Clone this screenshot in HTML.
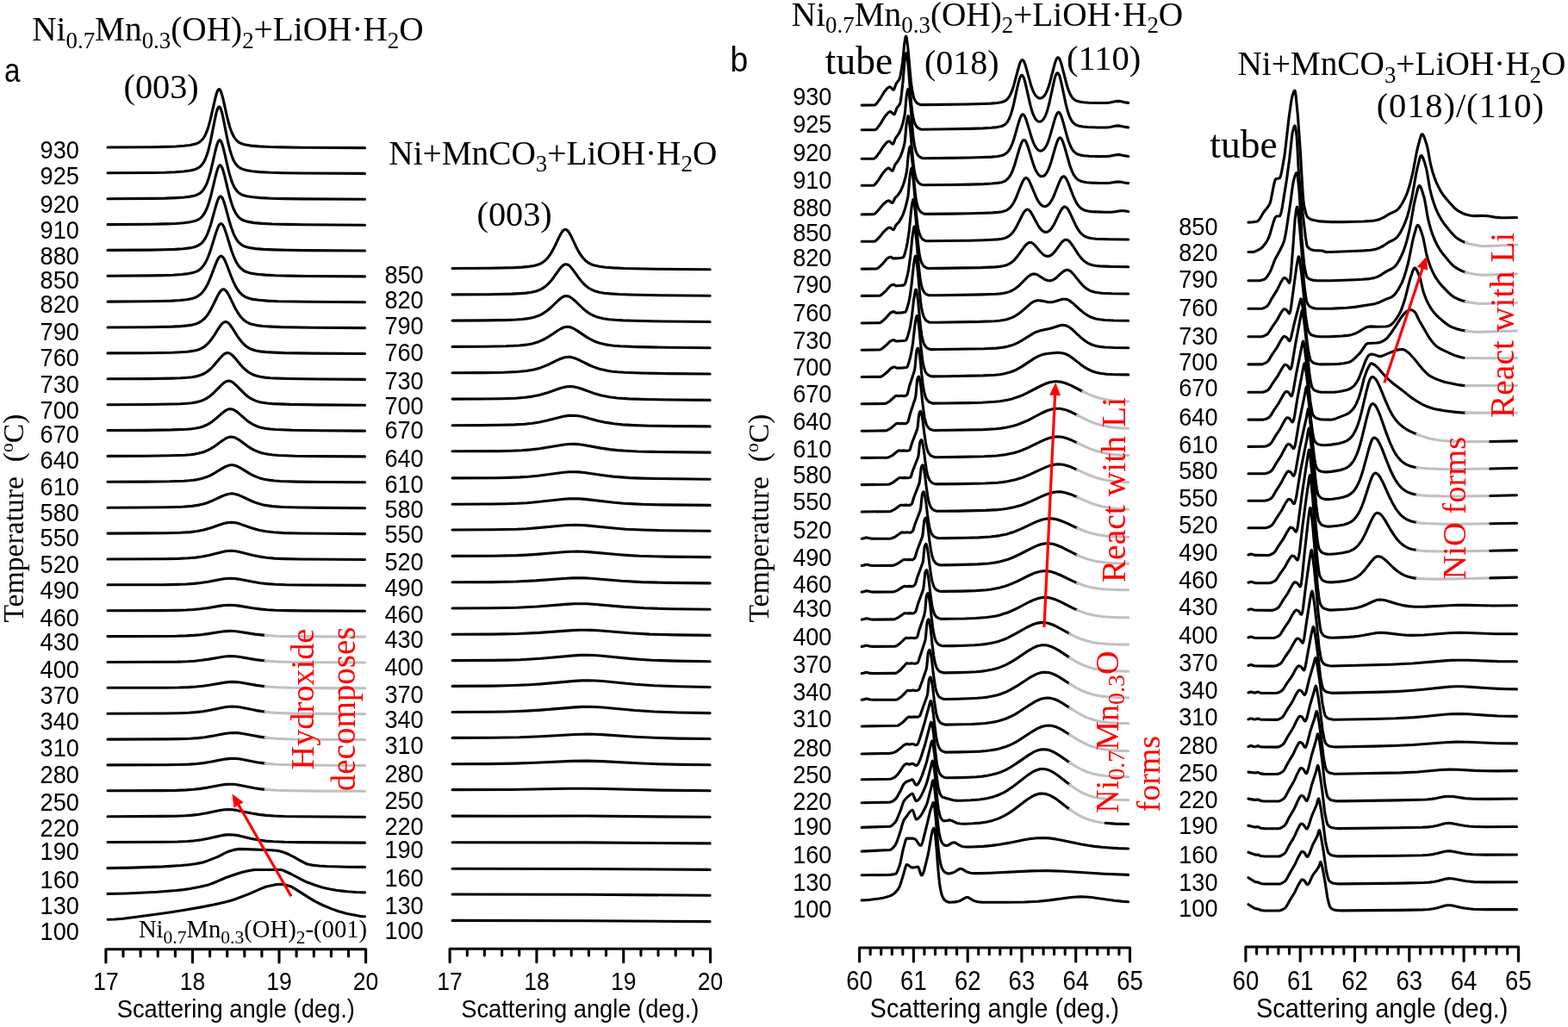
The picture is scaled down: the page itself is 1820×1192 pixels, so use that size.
<!DOCTYPE html><html><head><meta charset="utf-8"><title>XRD</title><style>html,body{margin:0;padding:0;background:#fff;width:1820px;height:1192px;overflow:hidden}svg{display:block;filter:blur(0.45px)}.s{font-family:"Liberation Sans",Arial,sans-serif}.r{font-family:"Liberation Serif","Times New Roman",serif}</style></head><body><svg width="1820" height="1192" viewBox="0 0 1820 1192"><rect width="1820" height="1192" fill="#fff"/><g fill="none" stroke-width="3.10" stroke-linejoin="round" stroke-linecap="round"><path d="M125.0 171.0L176.0 170.7 192.0 170.4 204.0 170.0 213.5 169.3 220.5 168.5 226.0 167.3 228.0 166.7 230.0 165.8 231.5 164.9 233.0 163.8 235.5 161.2 237.0 159.0 238.0 157.2 240.0 152.7 242.0 146.9 244.0 139.7 249.5 115.6 251.0 109.8 252.0 106.7 253.0 104.6 253.5 104.0 254.0 103.7 254.5 103.6 255.0 103.9 256.0 105.4 257.5 109.4 259.0 115.2 263.0 133.1 265.0 141.3 267.0 148.2 269.0 153.7 271.5 158.8 272.5 160.4 274.0 162.3 276.5 164.6 278.0 165.6 280.0 166.5 282.5 167.4 285.0 168.0 291.5 169.1 300.5 169.9 313.0 170.5 328.5 170.9 350.0 171.2 423.5 171.6" stroke="#000"/>
<path d="M125.0 200.8L175.5 200.5 191.5 200.2 203.5 199.7 213.0 199.0 220.5 198.0 226.0 196.7 228.0 195.9 230.0 194.9 231.5 194.0 233.0 192.7 235.5 189.7 237.0 187.3 238.0 185.3 240.0 180.2 242.0 173.7 244.0 165.6 249.5 138.1 251.0 131.4 252.0 127.8 253.0 125.3 253.5 124.5 254.0 124.1 254.5 124.0 255.0 124.2 256.0 125.7 257.5 130.2 259.0 136.7 263.0 157.1 265.0 166.5 267.0 174.5 269.0 180.8 270.0 183.5 271.5 186.8 272.5 188.6 274.0 190.8 275.5 192.5 277.0 193.8 278.5 194.8 280.5 195.9 283.0 196.8 285.5 197.5 292.5 198.7 301.5 199.6 313.5 200.3 329.0 200.7 350.5 201.0 423.5 201.4" stroke="#000"/>
<path d="M125.0 230.7L176.5 230.4 192.5 230.1 204.5 229.6 214.0 229.0 221.0 228.1 226.5 226.9 228.5 226.2 230.5 225.2 232.0 224.3 233.5 223.2 236.0 220.4 238.5 216.3 240.5 211.8 242.5 206.0 244.5 198.8 250.0 175.0 251.5 169.2 252.5 166.1 253.5 163.9 254.5 162.7 255.0 162.6 255.5 162.7 256.5 163.9 257.5 166.1 258.5 169.2 260.0 175.0 265.5 198.9 268.0 207.6 270.0 213.1 272.5 218.2 275.0 221.7 276.5 223.2 278.0 224.4 279.5 225.3 281.5 226.3 284.0 227.1 286.5 227.7 293.5 228.8 302.5 229.6 314.5 230.2 330.0 230.6 351.0 230.9 423.5 231.3" stroke="#000"/>
<path d="M125.0 260.6L175.5 260.3 191.5 259.9 203.5 259.5 213.0 258.8 220.5 257.8 226.0 256.6 228.0 255.9 230.0 254.9 231.5 254.0 233.0 252.9 234.5 251.4 236.0 249.6 238.5 245.4 240.5 240.9 242.5 235.2 244.5 228.3 250.0 205.4 252.0 197.9 253.0 195.1 254.0 193.0 255.0 192.0 255.5 191.8 256.0 192.0 257.0 193.0 258.0 195.1 259.0 197.9 261.0 205.4 266.5 228.3 269.0 236.8 271.0 242.2 273.5 247.3 276.0 250.9 277.5 252.5 279.0 253.8 281.0 255.0 283.0 256.0 285.5 256.8 288.0 257.4 295.0 258.6 304.0 259.4 316.0 260.0 331.5 260.4 352.5 260.8 423.5 261.2" stroke="#000"/>
<path d="M125.0 290.4L175.0 290.1 191.0 289.8 203.0 289.4 212.5 288.7 220.0 287.9 225.5 286.7 229.5 285.3 232.5 283.4 234.0 282.2 235.5 280.6 238.0 277.0 240.0 273.2 242.0 268.4 244.5 261.0 250.5 239.3 252.5 233.0 253.5 230.6 254.5 228.9 255.5 228.0 256.0 227.9 256.5 228.0 257.5 228.9 258.5 230.6 259.5 233.0 261.5 239.3 266.0 256.0 268.0 262.7 270.5 269.8 272.5 274.3 275.0 278.6 277.5 281.7 279.0 283.1 280.5 284.2 282.5 285.3 284.5 286.2 289.5 287.5 296.5 288.6 306.0 289.4 318.0 289.9 333.5 290.3 354.5 290.6 423.5 291.0" stroke="#000"/>
<path d="M125.0 320.3L173.0 319.9 189.0 319.6 201.0 319.2 211.0 318.5 218.5 317.6 224.0 316.5 228.0 315.1 230.0 314.1 231.5 313.1 233.0 311.8 234.5 310.3 237.0 307.1 239.5 302.7 241.5 298.3 244.0 291.6 250.5 270.7 252.5 265.0 253.5 262.7 254.5 261.0 255.5 259.9 256.5 259.6 257.5 259.9 258.5 261.0 259.5 262.7 260.5 265.0 262.5 270.7 269.0 291.7 271.5 298.3 274.0 303.7 276.5 307.9 278.0 309.8 279.5 311.4 282.5 313.8 284.5 315.0 286.5 315.8 291.5 317.2 298.5 318.3 308.0 319.1 320.0 319.7 335.5 320.1 356.0 320.5 423.5 320.9" stroke="#000"/>
<path d="M125.0 350.1L172.0 349.8 187.5 349.5 199.5 349.1 209.0 348.5 216.5 347.8 222.0 346.8 226.5 345.4 230.0 343.6 233.0 341.3 235.5 338.7 238.0 335.2 240.5 330.8 243.0 325.4 245.5 319.2 250.0 307.3 252.0 302.6 253.5 299.8 254.5 298.5 255.5 297.7 256.5 297.3 257.5 297.6 258.5 298.3 259.5 299.5 261.0 302.2 263.0 306.8 268.0 320.0 270.5 326.1 273.0 331.4 275.5 335.7 278.5 339.7 281.5 342.5 284.5 344.5 288.5 346.1 293.5 347.4 300.5 348.3 310.0 349.1 322.5 349.7 358.5 350.3 423.5 350.7" stroke="#000"/>
<path d="M125.0 380.0L172.0 379.8 200.0 379.1 210.0 378.6 217.5 377.9 223.0 377.1 227.5 375.9 231.0 374.4 234.0 372.6 237.0 370.1 239.5 367.3 242.0 363.8 244.5 359.6 247.0 354.8 252.5 343.5 254.5 340.0 256.0 337.9 257.0 336.8 258.5 335.9 259.5 335.8 260.5 336.1 261.5 336.8 262.5 337.8 264.0 339.8 266.5 344.3 271.5 354.7 274.0 359.5 277.0 364.4 279.5 367.8 282.5 371.0 285.5 373.3 289.0 375.2 293.0 376.6 298.0 377.6 305.0 378.5 314.5 379.1 326.5 379.6 361.5 380.2 423.5 380.6" stroke="#000"/>
<path d="M125.0 409.9L172.0 409.7 200.0 409.2 210.0 408.7 217.5 408.2 223.5 407.4 228.0 406.5 231.5 405.4 234.5 404.0 237.5 402.1 240.5 399.5 243.0 396.9 246.0 393.0 248.5 389.4 254.5 379.9 257.0 376.5 258.5 375.0 259.5 374.2 261.0 373.6 262.0 373.5 263.0 373.7 264.5 374.5 265.5 375.3 267.0 377.0 269.5 380.5 275.0 389.3 277.5 393.0 280.5 396.8 283.0 399.5 286.0 402.1 289.5 404.3 293.0 405.8 297.0 407.0 302.0 407.9 309.0 408.6 318.0 409.1 330.0 409.6 364.0 410.1 423.5 410.5" stroke="#000"/>
<path d="M125.0 439.8L171.0 439.6 199.5 439.1 209.5 438.8 217.0 438.3 223.0 437.7 227.5 436.9 231.5 435.8 235.0 434.5 238.0 433.0 241.0 431.0 244.0 428.5 247.0 425.5 256.0 415.0 258.5 412.4 260.0 411.1 261.5 410.2 263.0 409.7 264.0 409.6 265.0 409.6 266.5 410.1 268.0 411.0 269.5 412.2 272.5 415.3 278.5 422.6 281.5 425.9 284.5 428.8 287.5 431.3 290.5 433.2 294.0 435.0 298.0 436.3 302.0 437.3 307.5 438.1 314.0 438.7 323.0 439.1 334.5 439.5 367.5 440.0 423.5 440.4" stroke="#000"/>
<path d="M125.0 469.7L171.0 469.5 199.5 469.0 209.5 468.7 217.0 468.2 222.5 467.7 227.5 466.9 231.0 466.0 234.5 464.9 238.0 463.3 241.0 461.6 244.0 459.5 247.5 456.5 256.5 447.4 259.5 444.7 261.0 443.6 262.5 442.8 264.0 442.3 265.5 442.1 267.0 442.3 268.5 442.9 270.0 443.7 271.5 444.8 274.5 447.6 283.5 456.7 287.0 459.7 290.0 461.8 293.0 463.5 296.5 465.1 300.5 466.4 304.5 467.2 310.0 468.0 316.5 468.6 336.5 469.4 369.0 469.9 423.5 470.2" stroke="#000"/>
<path d="M125.0 499.5L170.5 499.4 199.0 498.9 216.5 498.2 222.5 497.7 227.5 497.0 231.5 496.2 235.0 495.2 238.5 493.8 242.0 492.1 245.0 490.2 248.5 487.6 258.0 479.4 261.0 477.1 263.0 475.9 264.5 475.2 266.0 474.8 267.5 474.7 269.0 474.9 270.5 475.3 272.0 476.0 274.0 477.3 277.0 479.6 286.5 487.9 290.0 490.4 293.0 492.3 296.5 494.0 300.0 495.4 304.0 496.5 308.0 497.3 313.5 498.0 320.0 498.5 339.5 499.3 371.5 499.8 423.5 500.1" stroke="#000"/>
<path d="M125.0 529.4L169.0 529.2 197.5 528.8 215.0 528.2 221.0 527.7 226.0 527.1 230.0 526.3 234.0 525.3 237.5 524.2 241.0 522.7 244.5 520.9 248.0 518.7 258.0 511.5 261.5 509.2 265.0 507.6 267.0 507.2 268.5 507.1 270.0 507.2 272.0 507.7 275.5 509.4 278.5 511.3 289.0 518.9 292.5 521.1 296.0 522.9 299.5 524.3 303.0 525.5 307.0 526.5 311.5 527.3 317.0 528.0 323.5 528.5 342.5 529.2 374.0 529.6 423.5 529.9" stroke="#000"/>
<path d="M125.0 559.3L168.5 559.1 196.5 558.8 213.5 558.2 219.5 557.8 225.0 557.2 229.0 556.6 233.0 555.7 237.0 554.6 240.5 553.3 244.0 551.8 247.5 550.0 258.0 543.7 261.5 541.7 263.5 540.9 265.5 540.2 267.5 539.8 269.0 539.8 270.5 539.8 272.5 540.2 276.0 541.5 279.5 543.4 290.5 550.1 294.5 552.1 298.0 553.6 301.5 554.9 305.5 556.0 309.5 556.8 313.5 557.4 319.0 558.0 325.5 558.5 344.0 559.1 375.0 559.5 423.5 559.8" stroke="#000"/>
<path d="M125.0 589.2L167.5 589.0 195.0 588.7 211.5 588.2 223.0 587.4 231.0 586.1 235.0 585.2 238.5 584.2 242.0 583.0 246.0 581.4 257.5 576.0 261.0 574.6 265.0 573.4 267.0 573.0 269.0 572.9 271.0 573.0 273.0 573.4 277.0 574.6 280.5 576.1 292.0 581.5 296.0 583.1 299.5 584.3 303.5 585.5 307.5 586.4 316.0 587.6 328.0 588.5 346.5 589.0 377.0 589.4 423.5 589.7" stroke="#000"/>
<path d="M125.0 619.1L166.0 618.9 193.0 618.7 209.0 618.3 220.5 617.6 229.0 616.5 236.5 615.1 244.5 612.8 256.0 608.8 260.0 607.6 264.5 606.6 268.5 606.3 272.5 606.6 277.0 607.6 292.5 613.0 300.5 615.2 308.5 616.8 317.5 617.8 329.5 618.6 347.5 619.0 377.5 619.3 423.5 619.6" stroke="#000"/>
<path d="M125.0 649.0L191.0 648.7 207.0 648.4 218.5 647.8 227.0 647.1 234.5 646.0 242.5 644.4 259.5 640.2 264.0 639.5 268.0 639.3 272.0 639.5 276.5 640.2 293.5 644.5 301.5 646.1 309.5 647.3 318.5 648.1 330.5 648.6 348.5 649.0 423.5 649.5" stroke="#000"/>
<path d="M125.0 678.8L189.0 678.7 205.0 678.4 216.5 678.0 225.0 677.4 233.0 676.5 241.5 675.2 258.5 672.0 263.0 671.5 267.5 671.3 272.0 671.5 276.5 672.1 293.5 675.3 302.0 676.7 310.5 677.6 319.5 678.2 332.0 678.7 349.5 679.0 423.5 679.4" stroke="#000"/>
<path d="M125.0 708.7L189.0 708.6 204.5 708.4 216.0 708.0 224.5 707.5 232.5 706.7 240.5 705.7 257.5 702.9 262.0 702.5 266.5 702.3 271.0 702.5 275.5 702.9 293.0 705.8 301.5 706.9 310.0 707.7 319.0 708.3 331.5 708.6 349.5 708.9 423.5 709.3" stroke="#000"/>
<path d="M125.0 738.6L189.0 738.5 205.0 738.3 216.5 737.9 225.0 737.4 233.0 736.7 241.5 735.6 258.0 733.0 262.5 732.6 267.0 732.4 271.5 732.5 276.0 733.0 296.0 736.1 308.0 737.4" stroke="#000"/>
<path d="M308.0 737.4L321.0 738.2 338.5 738.6 423.5 739.1" stroke="#c0c0c0"/>
<path d="M125.0 768.5L190.0 768.3 206.0 768.1 217.5 767.7 226.0 767.2 234.0 766.3 242.5 765.1 259.0 762.3 263.5 761.7 268.0 761.5 272.5 761.7 277.0 762.2 296.5 765.6 308.0 767.0" stroke="#000"/>
<path d="M308.0 767.0L321.0 767.9 338.5 768.5 369.5 768.8 423.5 769.0" stroke="#c0c0c0"/>
<path d="M125.0 798.3L191.0 798.2 207.5 798.0 219.0 797.6 227.5 797.0 235.5 796.2 244.0 795.0 261.0 792.1 265.5 791.6 269.5 791.4 274.0 791.6 278.5 792.0 297.5 795.4 308.0 796.7" stroke="#000"/>
<path d="M308.0 796.7L321.0 797.7 338.5 798.3 369.0 798.6 423.5 798.9" stroke="#c0c0c0"/>
<path d="M125.0 828.2L191.0 828.0 207.5 827.7 219.0 827.3 227.5 826.6 235.5 825.7 244.0 824.2 261.0 820.8 265.5 820.2 269.5 820.0 274.0 820.2 278.5 820.7 297.5 824.6 308.0 826.3" stroke="#000"/>
<path d="M308.0 826.3L314.0 826.9 321.0 827.4 338.5 828.1 369.0 828.4 423.5 828.7" stroke="#c0c0c0"/>
<path d="M125.0 858.1L192.5 857.9 209.0 857.6 220.5 857.2 229.5 856.6 237.5 855.7 245.5 854.4 262.5 851.2 267.0 850.7 271.0 850.5 275.5 850.6 280.5 851.2 298.5 854.6 308.0 856.1" stroke="#000"/>
<path d="M308.0 856.1L314.5 856.8 321.5 857.3 338.5 858.0 368.5 858.3 423.5 858.6" stroke="#c0c0c0"/>
<path d="M125.0 887.9L191.5 887.8 208.0 887.5 219.5 887.1 228.0 886.5 236.0 885.6 244.5 884.3 261.0 881.1 265.5 880.6 270.0 880.3 274.5 880.5 279.0 881.0 298.0 884.7 308.0 886.1" stroke="#000"/>
<path d="M308.0 886.1L321.0 887.2 338.5 887.8 368.5 888.2 423.5 888.5" stroke="#c0c0c0"/>
<path d="M125.0 917.8L189.0 917.6 204.5 917.4 216.0 916.9 224.5 916.3 232.5 915.4 241.0 914.1 257.5 911.0 262.0 910.4 266.5 910.2 270.5 910.3 275.0 910.8 295.5 914.7 301.5 915.6 308.0 916.4" stroke="#000"/>
<path d="M308.0 916.4L321.0 917.3 338.5 917.8 369.5 918.1 423.5 918.3" stroke="#c0c0c0"/>
<path d="M125.0 947.7L188.0 947.4 203.5 947.2 215.0 946.7 223.5 946.1 231.0 945.2 239.5 943.7 256.5 940.3 261.0 939.8 265.5 939.6 270.0 939.8 274.5 940.4 292.0 944.0 300.5 945.4 309.0 946.4 318.0 947.0 330.5 947.5 348.5 947.8 423.5 948.2" stroke="#000"/>
<path d="M125.0 977.5L190.0 977.3 206.0 977.0 217.5 976.5 226.0 975.8 233.5 974.8 241.5 973.3 258.0 969.6 262.5 968.9 267.0 968.7 271.0 969.0 275.5 969.6 292.0 973.4 300.5 975.0 308.5 976.1 317.5 976.8 330.0 977.3 348.0 977.6 423.5 978.1" stroke="#000"/>
<path d="M125.0 1007.6L152.0 1007.1 189.0 1005.9 210.0 1004.5 218.5 1003.7 226.0 1002.7 233.5 1001.4 237.5 1000.3 241.5 998.9 253.5 994.1 261.0 990.1 264.5 988.6 273.0 986.1 276.0 985.6 278.5 985.4 285.5 985.6 315.0 986.8 321.0 987.2 324.0 987.7 328.5 989.0 334.5 991.3 341.0 994.6 348.5 998.9 355.5 1002.5 358.0 1003.3 362.5 1004.1 370.5 1005.0 379.5 1005.5 403.0 1006.2 423.5 1006.4" stroke="#000"/>
<path d="M125.0 1037.4L135.5 1037.3 147.0 1037.0 182.5 1035.3 204.5 1033.5 213.0 1032.6 220.5 1031.5 231.0 1029.5 242.0 1026.9 248.0 1024.7 262.5 1018.5 275.0 1014.2 280.5 1012.5 285.5 1011.2 292.5 1009.9 296.0 1009.5 325.5 1009.5 327.0 1009.7 329.5 1010.5 338.0 1014.5 351.0 1021.4 356.0 1023.8 365.5 1027.3 374.0 1030.0 378.5 1031.1 383.0 1032.0 390.0 1033.2 397.0 1034.1 403.0 1034.8 413.0 1035.5 423.5 1035.9" stroke="#000"/>
<path d="M125.0 1067.3L133.5 1067.0 143.0 1066.2 184.5 1060.8 198.5 1058.7 214.0 1056.2 235.0 1052.6 248.0 1050.1 262.5 1046.8 267.0 1045.6 272.0 1044.0 289.5 1037.4 302.5 1031.6 308.5 1029.3 311.5 1028.5 319.0 1026.9 322.5 1026.5 325.5 1026.3 328.0 1026.5 331.0 1027.0 337.0 1028.8 339.0 1029.6 341.5 1031.1 361.0 1043.4 366.5 1046.6 375.5 1051.0 385.0 1054.9 393.0 1057.7 403.0 1060.4 417.5 1063.2 420.5 1063.6 423.5 1063.8" stroke="#000"/>
<path d="M525.1 311.5L569.6 311.3 596.6 310.6 606.1 310.1 613.6 309.4 619.6 308.5 624.1 307.3 627.6 305.9 631.1 303.7 634.1 301.1 636.6 298.2 639.1 294.6 641.6 290.4 644.1 285.5 649.6 273.9 651.6 270.3 653.1 268.2 654.1 267.2 655.1 266.6 656.1 266.3 657.1 266.5 658.1 267.1 659.1 268.0 660.6 270.0 663.1 274.6 668.1 285.2 671.1 291.1 674.1 296.0 676.6 299.3 679.6 302.5 682.6 304.8 686.1 306.7 690.1 308.1 695.6 309.3 702.6 310.2 712.1 310.9 724.6 311.5 760.6 312.3 824.1 312.8" stroke="#000"/>
<path d="M525.1 341.9L567.6 341.7 594.1 341.1 603.6 340.6 610.6 340.1 616.6 339.3 621.1 338.3 624.6 337.2 628.1 335.6 631.1 333.8 634.1 331.5 637.1 328.6 640.1 325.2 643.1 321.2 649.1 312.8 651.6 309.8 653.1 308.4 654.6 307.4 656.1 306.8 657.1 306.7 658.1 306.9 659.6 307.5 661.1 308.6 662.6 310.1 665.1 313.2 671.1 321.6 674.1 325.5 677.1 329.0 680.1 331.8 683.6 334.5 687.1 336.4 691.1 338.0 695.6 339.2 701.1 340.2 708.6 340.9 718.1 341.5 730.6 342.0 765.6 342.7 824.1 343.2" stroke="#000"/>
<path d="M525.1 372.1L564.6 371.9 590.1 371.4 599.1 371.0 606.1 370.5 611.6 369.9 616.6 369.0 620.6 368.0 624.1 366.8 627.6 365.3 631.1 363.3 634.1 361.3 637.6 358.5 641.1 355.3 647.6 349.0 651.1 346.0 653.1 344.7 654.6 344.0 656.1 343.6 657.6 343.5 659.1 343.7 660.6 344.2 662.1 345.0 664.1 346.4 667.1 348.9 677.1 358.5 680.6 361.4 684.1 363.8 687.6 365.7 691.6 367.4 696.1 368.8 700.6 369.8 706.6 370.7 713.6 371.3 723.1 371.9 735.1 372.3 769.1 373.0 824.1 373.5" stroke="#000"/>
<path d="M525.1 402.4L562.1 402.2 587.1 401.7 602.6 401.0 608.6 400.4 613.6 399.7 617.6 398.9 621.6 397.8 625.1 396.7 628.6 395.2 632.1 393.5 636.1 391.2 647.6 383.5 651.1 381.5 653.1 380.5 655.1 379.8 657.1 379.4 658.6 379.3 660.1 379.4 662.1 379.8 664.1 380.6 666.1 381.5 669.6 383.6 681.1 391.4 685.1 393.7 689.1 395.7 693.1 397.3 697.1 398.6 701.6 399.6 706.6 400.5 712.6 401.2 719.6 401.8 740.1 402.6 773.1 403.3 824.1 403.7" stroke="#000"/>
<path d="M525.1 432.7L560.6 432.6 584.6 432.2 600.1 431.5 611.1 430.5 619.6 429.0 627.1 426.9 631.1 425.4 635.1 423.8 647.1 417.9 651.1 416.2 655.6 414.8 657.6 414.5 659.6 414.3 661.6 414.4 663.6 414.7 668.1 416.1 672.1 417.8 684.6 424.0 689.1 425.9 693.1 427.3 697.1 428.6 701.6 429.6 706.1 430.5 711.1 431.2 717.1 431.8 724.6 432.3 744.1 433.0 775.6 433.6 824.1 434.0" stroke="#000"/>
<path d="M525.1 463.1L559.1 463.0 582.6 462.7 598.1 462.2 609.6 461.3 618.1 460.1 626.1 458.5 634.6 456.1 647.6 451.5 652.1 450.0 657.1 448.9 661.6 448.5 666.1 448.9 671.1 450.0 675.6 451.5 689.1 456.4 698.1 459.0 707.1 460.8 716.6 462.0 729.6 462.9 748.6 463.5 779.1 464.0 824.1 464.4" stroke="#000"/>
<path d="M525.1 493.7L558.6 493.6 581.6 493.3 597.1 492.9 609.1 492.2 618.1 491.2 626.1 490.0 635.1 488.1 654.1 483.3 659.6 482.4 664.6 482.2 669.6 482.5 674.6 483.3 679.6 484.5 694.1 488.4 703.6 490.4 712.6 491.8 722.6 492.9 736.1 493.6 754.1 494.2 782.6 494.6 824.1 494.9" stroke="#000"/>
<path d="M525.1 523.8L578.1 523.6 593.6 523.2 605.6 522.7 616.1 521.9 626.1 520.8 655.1 516.0 660.1 515.5 665.1 515.4 670.6 515.6 676.1 516.3 697.6 520.1 707.6 521.6 716.6 522.6 726.6 523.3 740.1 524.0 757.6 524.4 824.1 525.1" stroke="#000"/>
<path d="M525.1 554.9L575.6 554.7 590.6 554.4 603.1 553.9 613.6 553.2 624.1 552.2 654.6 548.2 660.1 547.8 665.6 547.7 671.6 547.9 678.1 548.5 700.6 551.7 711.6 553.1 721.1 553.9 731.1 554.6 744.6 555.1 762.1 555.5 824.1 556.2" stroke="#000"/>
<path d="M525.1 585.2L572.6 585.0 587.6 584.7 600.6 584.3 611.6 583.7 622.1 582.8 654.6 579.3 660.6 578.9 666.6 578.8 672.6 578.9 678.6 579.4 712.6 583.3 723.6 584.2 735.6 584.9 749.6 585.5 766.6 585.9 824.1 586.4" stroke="#000"/>
<path d="M525.1 615.0L571.6 614.8 599.6 614.2 610.6 613.7 621.6 612.9 655.1 609.8 661.6 609.5 668.1 609.4 674.1 609.5 680.6 609.9 715.1 613.3 726.6 614.2 738.6 614.8 752.6 615.3 769.1 615.7 824.1 616.2" stroke="#000"/>
<path d="M525.1 645.4L571.6 645.2 600.1 644.6 611.6 644.1 622.6 643.4 657.1 640.5 663.6 640.2 670.1 640.1 676.6 640.2 683.1 640.6 718.6 643.8 730.1 644.6 742.1 645.3 772.6 646.1 824.1 646.6" stroke="#000"/>
<path d="M525.1 675.7L570.6 675.6 599.1 675.0 622.1 673.9 657.6 671.2 665.1 670.9 671.6 670.8 678.1 670.9 685.1 671.3 721.1 674.3 744.6 675.6 774.6 676.4 824.1 676.9" stroke="#000"/>
<path d="M525.1 706.0L571.1 705.8 600.1 705.2 623.6 704.0 660.1 701.1 667.6 700.8 674.1 700.7 680.6 700.8 688.1 701.3 724.1 704.4 747.6 705.8 777.1 706.7 824.1 707.2" stroke="#000"/>
<path d="M525.1 736.3L572.1 736.1 602.1 735.5 626.1 734.4 664.1 731.6 672.1 731.3 679.1 731.2 686.1 731.4 694.1 731.8 731.1 734.8 754.1 736.1 782.6 736.9 824.1 737.4" stroke="#000"/>
<path d="M525.1 766.6L573.1 766.4 589.6 766.1 603.6 765.7 616.1 765.0 628.1 764.2 666.1 760.9 674.1 760.4 681.1 760.3 688.1 760.5 696.1 761.0 733.1 764.6 744.6 765.5 756.1 766.2 783.6 767.1 824.1 767.8" stroke="#000"/>
<path d="M525.1 796.4L571.6 796.1 588.1 795.8 602.6 795.3 615.1 794.7 627.6 793.9 667.1 790.4 675.6 789.9 683.1 789.8 690.6 790.0 699.1 790.5 737.1 794.2 759.6 795.8 786.6 796.8 824.1 797.5" stroke="#000"/>
<path d="M525.1 826.5L571.6 826.3 588.1 826.0 602.6 825.5 615.1 824.9 627.6 824.1 667.1 820.9 675.6 820.4 683.1 820.3 690.6 820.5 699.1 821.0 737.1 824.5 759.6 826.0 786.6 827.0 824.1 827.6" stroke="#000"/>
<path d="M525.1 856.4L571.6 856.3 602.6 855.8 627.6 854.8 667.1 852.5 675.6 852.2 683.1 852.1 690.6 852.3 699.1 852.6 737.1 855.2 759.6 856.3 786.6 857.1 824.1 857.5" stroke="#000"/>
<path d="M525.1 886.7L566.6 886.6 596.6 886.1 621.6 885.3 663.1 883.4 681.1 883.1 699.1 883.6 739.1 885.8 762.6 886.7 789.6 887.4 824.1 887.8" stroke="#000"/>
<path d="M525.1 916.6L591.6 916.5 660.6 915.3 680.1 915.2 700.1 915.5 766.1 917.1 824.1 917.8" stroke="#000"/>
<path d="M525.1 947.1L591.1 947.2 680.1 947.0 766.1 947.9 824.1 948.3" stroke="#000"/>
<path d="M525.1 977.7L680.1 977.9 824.1 978.9" stroke="#000"/>
<path d="M525.1 1008.2L680.1 1008.5 824.1 1009.4" stroke="#000"/>
<path d="M525.1 1038.0L680.1 1038.3 824.1 1039.2" stroke="#000"/>
<path d="M525.1 1068.4L680.1 1068.7 824.1 1069.6" stroke="#000"/>
<path d="M1000.2 122.1L1014.7 122.0 1015.7 121.8 1016.7 121.0 1017.7 119.9 1021.3 115.0 1026.3 106.8 1029.2 103.2 1030.6 101.9 1031.9 101.0 1032.9 100.8 1033.9 101.3 1035.8 103.5 1036.5 104.0 1037.2 104.2 1037.8 103.5 1039.8 97.9 1040.5 96.5 1042.8 93.6 1043.8 92.0 1044.4 90.2 1045.1 87.6 1046.4 80.4 1047.7 71.5 1049.7 50.8 1051.0 43.3 1051.3 42.3 1051.7 42.1 1052.0 42.7 1052.3 44.1 1053.3 51.2 1054.3 60.0 1056.0 80.4 1057.3 93.9 1058.3 102.1 1059.3 107.7 1060.6 113.1 1061.2 114.9 1062.6 117.4 1063.6 118.7 1064.5 119.7 1066.2 120.6 1067.8 121.4 1069.5 121.6 1093.2 121.4 1122.0 121.0 1140.4 120.5 1150.0 120.1 1157.3 119.5 1161.9 118.8 1165.2 117.8 1167.8 116.3 1169.8 114.4 1171.8 111.6 1173.4 108.4 1175.1 104.2 1176.7 99.1 1181.7 80.5 1183.3 74.9 1184.3 72.3 1185.0 71.0 1186.0 69.8 1186.6 69.5 1187.3 69.8 1188.3 70.9 1188.9 72.2 1189.9 74.8 1191.2 79.1 1196.5 98.4 1198.5 104.1 1200.2 107.8 1202.1 111.0 1204.1 112.9 1205.1 113.5 1206.4 114.0 1207.7 114.0 1208.7 113.8 1210.4 112.9 1212.0 111.3 1213.7 108.8 1215.3 105.4 1217.0 101.0 1218.6 95.6 1223.3 77.6 1224.9 71.9 1225.9 69.3 1226.6 68.0 1227.5 66.9 1228.2 66.8 1228.9 67.1 1229.9 68.5 1231.5 72.7 1232.8 77.4 1237.8 97.0 1239.4 102.4 1240.7 106.0 1242.4 109.7 1244.0 112.4 1245.7 114.4 1247.7 116.1 1250.3 117.3 1253.3 118.1 1257.6 118.7 1263.5 119.2 1275.1 119.5 1284.3 119.4 1288.6 119.0 1295.5 117.6 1298.2 117.4 1300.5 117.6 1306.1 118.9 1309.7 119.4" stroke="#000"/>
<path d="M1000.2 150.7L1015.4 150.6 1016.4 150.4 1017.4 149.7 1018.3 148.6 1022.0 143.6 1026.9 135.5 1029.9 132.0 1031.5 130.3 1032.9 129.6 1033.9 129.6 1034.8 130.3 1037.2 132.6 1037.8 132.8 1038.1 132.6 1038.5 132.2 1040.8 125.9 1041.4 124.7 1043.4 122.4 1044.1 121.4 1044.7 119.9 1045.1 118.6 1046.1 112.3 1048.0 94.8 1050.0 71.6 1051.3 63.0 1051.7 61.8 1052.0 61.4 1052.3 61.9 1052.7 63.2 1053.7 70.9 1054.6 80.6 1056.3 103.3 1057.9 121.9 1058.9 130.3 1059.9 136.1 1061.2 141.6 1062.2 144.0 1063.2 145.9 1064.2 147.3 1064.9 147.9 1066.9 149.2 1068.5 150.0 1070.2 150.2 1104.5 149.8 1126.2 149.4 1141.4 148.9 1150.7 148.3 1157.3 147.6 1161.5 146.8 1163.2 146.3 1164.8 145.5 1166.2 144.7 1167.5 143.6 1169.5 141.2 1171.4 137.6 1173.1 133.5 1174.7 128.3 1176.4 122.0 1181.0 100.7 1182.7 93.9 1184.3 89.0 1185.3 87.5 1186.0 87.2 1186.6 87.4 1187.6 88.7 1188.3 90.3 1189.3 93.3 1190.9 99.9 1195.9 121.9 1197.8 128.9 1199.5 133.5 1201.5 137.4 1202.5 138.8 1203.5 139.8 1204.4 140.6 1205.8 141.1 1207.1 141.2 1208.1 141.0 1209.1 140.4 1210.1 139.6 1211.7 137.6 1213.4 134.5 1215.0 130.2 1216.3 125.9 1218.0 119.5 1222.6 98.0 1224.2 91.1 1225.2 87.9 1225.9 86.4 1226.9 85.0 1227.5 84.7 1228.2 85.1 1229.2 86.6 1229.9 88.3 1230.8 91.6 1232.5 98.7 1237.1 120.6 1238.8 127.2 1240.1 131.6 1241.7 136.0 1243.4 139.3 1245.0 141.7 1247.0 143.7 1248.3 144.6 1249.6 145.3 1252.6 146.2 1256.9 147.0 1262.8 147.5 1274.1 148.0 1284.0 148.0 1288.6 147.5 1295.5 146.1 1298.2 145.9 1300.5 146.2 1306.1 147.4 1309.7 147.9" stroke="#000"/>
<path d="M1000.2 184.2L1014.1 184.1 1014.7 184.0 1016.0 183.1 1017.4 181.6 1021.0 176.8 1025.3 169.9 1028.2 166.5 1029.9 164.9 1031.2 164.2 1032.2 164.0 1033.2 164.6 1035.5 166.9 1036.2 167.2 1036.5 167.1 1036.8 166.8 1037.5 165.5 1039.5 160.2 1042.8 155.9 1044.7 152.2 1046.4 148.1 1048.0 142.7 1050.0 133.9 1050.7 128.1 1052.0 112.9 1053.3 105.0 1053.7 103.9 1054.0 103.5 1054.3 103.9 1054.6 105.1 1055.6 111.9 1057.0 124.1 1058.3 141.1 1059.9 157.9 1060.9 165.6 1061.9 170.8 1063.2 175.9 1064.2 178.0 1065.2 179.8 1066.2 181.1 1066.9 181.6 1068.8 182.8 1070.5 183.5 1072.1 183.7 1103.8 183.4 1126.2 183.0 1141.8 182.5 1151.0 182.1 1157.6 181.5 1161.9 180.7 1165.2 179.7 1167.5 178.3 1169.8 176.2 1171.8 173.5 1173.4 170.4 1175.1 166.5 1177.1 160.8 1182.0 143.4 1183.7 138.2 1184.6 135.8 1185.6 133.9 1186.6 132.9 1187.3 132.8 1187.9 133.0 1188.9 134.0 1190.6 137.5 1192.2 142.4 1197.5 160.3 1199.2 164.8 1200.8 168.5 1202.8 171.8 1204.8 173.9 1205.8 174.6 1206.8 175.0 1208.1 175.1 1209.1 174.9 1210.7 174.0 1212.4 172.4 1214.0 170.0 1215.7 166.7 1217.0 163.4 1218.6 158.4 1223.6 140.8 1225.2 135.5 1226.9 131.8 1227.9 130.6 1228.5 130.3 1229.2 130.4 1230.2 131.4 1231.2 133.2 1232.2 135.7 1233.8 141.1 1238.8 159.1 1240.4 164.2 1242.1 168.5 1243.7 171.9 1245.4 174.5 1247.0 176.4 1249.0 178.0 1251.6 179.3 1254.6 180.1 1258.6 180.7 1264.5 181.2 1275.7 181.6 1284.3 181.5 1288.6 181.1 1295.5 179.7 1298.2 179.4 1300.5 179.7 1306.1 180.9 1309.7 181.5" stroke="#000"/>
<path d="M1000.2 215.3L1013.4 215.2 1014.4 215.0 1015.4 214.2 1016.4 213.2 1020.0 208.4 1024.9 200.7 1027.9 197.3 1029.2 196.1 1030.6 195.3 1031.5 195.1 1032.5 195.7 1034.8 198.0 1035.5 198.3 1035.8 198.3 1036.2 198.0 1036.8 196.7 1038.8 191.4 1039.8 189.9 1042.1 187.1 1045.1 181.7 1046.7 177.7 1048.4 172.5 1049.7 167.1 1050.4 163.5 1052.0 145.0 1053.3 136.7 1054.0 134.7 1054.3 134.8 1054.6 135.8 1055.6 142.3 1057.0 154.2 1058.3 171.0 1059.9 188.1 1060.9 196.1 1061.9 201.5 1063.2 206.7 1064.2 208.9 1065.2 210.7 1066.2 212.0 1066.9 212.7 1068.8 213.9 1070.5 214.5 1072.1 214.8 1102.8 214.5 1125.9 214.1 1141.8 213.6 1151.3 213.0 1157.9 212.4 1162.2 211.7 1165.5 210.6 1167.8 209.2 1170.1 207.1 1172.1 204.5 1174.1 200.9 1175.7 197.1 1177.7 191.5 1183.3 172.4 1185.0 167.5 1186.0 165.2 1187.0 163.5 1187.9 162.6 1188.6 162.5 1189.3 162.7 1190.3 163.7 1191.2 165.4 1192.2 167.7 1193.9 172.6 1199.2 190.0 1201.1 195.3 1202.8 198.8 1204.8 202.0 1205.8 203.1 1206.8 203.9 1207.7 204.5 1208.7 204.8 1209.7 204.8 1210.7 204.6 1212.4 203.6 1214.0 201.8 1215.7 199.1 1217.0 196.4 1218.3 193.1 1220.0 188.2 1224.9 171.0 1226.9 164.9 1227.9 162.6 1228.9 160.9 1229.9 160.0 1230.5 159.9 1231.2 160.2 1232.2 161.3 1233.1 163.2 1234.1 165.8 1235.8 171.0 1241.1 189.7 1242.7 194.7 1244.4 198.9 1246.0 202.3 1247.7 204.9 1249.6 207.2 1251.6 208.8 1254.3 210.2 1257.2 211.0 1261.2 211.7 1266.5 212.1 1276.4 212.5 1284.6 212.5 1288.6 212.2 1295.5 211.1 1298.2 211.0 1300.1 211.1 1306.1 212.2 1309.7 212.6" stroke="#000"/>
<path d="M1000.2 248.9L1013.4 248.8 1014.4 248.6 1015.4 248.0 1016.4 247.2 1020.0 243.4 1024.9 237.3 1029.2 233.7 1030.6 233.1 1031.5 232.9 1032.5 233.3 1034.5 235.0 1035.2 235.3 1035.8 235.4 1036.5 234.8 1038.8 230.0 1039.8 228.8 1042.1 226.6 1045.1 222.1 1047.4 217.2 1049.4 211.6 1051.0 205.7 1052.3 199.9 1053.0 194.2 1054.3 179.4 1055.6 171.7 1056.0 170.7 1056.3 170.2 1056.6 170.7 1057.0 171.8 1057.9 178.6 1059.3 190.5 1060.6 207.0 1062.2 223.4 1063.2 230.8 1064.2 235.9 1065.5 240.8 1066.5 242.9 1067.5 244.6 1068.5 245.8 1069.2 246.4 1071.1 247.5 1072.8 248.2 1074.4 248.4 1103.8 248.1 1126.6 247.7 1142.7 247.3 1152.0 246.9 1158.6 246.4 1163.2 245.7 1166.5 244.8 1169.1 243.6 1171.4 241.9 1173.4 239.9 1175.4 237.2 1177.4 233.7 1179.4 229.5 1185.0 215.3 1187.0 210.9 1187.9 209.1 1188.9 207.7 1189.9 206.8 1190.9 206.5 1191.9 206.7 1192.9 207.6 1193.9 208.9 1194.9 210.6 1196.5 214.1 1202.5 228.5 1204.4 232.4 1206.1 235.0 1208.1 237.4 1210.1 238.9 1212.0 239.5 1213.0 239.6 1214.0 239.4 1215.7 238.6 1217.3 237.2 1218.6 235.7 1220.3 233.2 1221.9 230.1 1223.6 226.5 1228.9 213.0 1230.5 209.3 1231.5 207.4 1232.5 206.0 1233.5 205.1 1234.5 204.7 1235.5 205.0 1236.4 205.8 1237.4 207.1 1238.4 208.9 1240.4 213.5 1246.0 228.2 1248.0 232.5 1249.6 235.6 1251.3 238.1 1252.9 240.1 1254.9 241.9 1256.9 243.1 1259.5 244.2 1262.8 245.0 1267.1 245.6 1273.1 245.9 1282.6 246.2 1289.9 246.2 1293.9 245.8 1300.5 244.8 1302.8 244.6 1305.4 244.8 1309.7 245.6" stroke="#000"/>
<path d="M1000.2 280.3L1014.7 280.2 1016.0 279.8 1017.7 278.4 1021.3 274.6 1025.9 268.8 1028.9 266.1 1030.6 264.8 1031.9 264.2 1032.9 264.1 1033.9 264.6 1036.2 266.4 1036.8 266.6 1037.2 266.6 1038.1 265.2 1040.1 261.0 1043.1 258.0 1044.1 256.6 1046.7 252.1 1048.7 247.6 1050.7 241.6 1052.7 233.9 1054.0 227.7 1054.3 225.3 1055.6 209.3 1056.3 203.3 1057.3 197.3 1057.6 196.0 1057.9 195.4 1058.3 195.7 1058.6 196.9 1059.6 204.0 1060.9 216.7 1062.2 234.5 1063.9 252.3 1064.9 260.5 1065.9 266.0 1067.2 271.4 1068.2 273.7 1069.2 275.6 1070.2 276.9 1070.8 277.6 1072.8 278.8 1074.4 279.5 1076.1 279.8 1098.9 279.5 1124.6 279.2 1142.1 278.7 1151.3 278.3 1157.9 277.9 1162.5 277.3 1166.2 276.4 1168.8 275.4 1171.4 273.8 1173.8 271.8 1175.7 269.5 1177.7 266.7 1179.7 263.4 1186.0 250.8 1187.9 247.2 1189.3 245.3 1190.3 244.2 1191.2 243.5 1192.2 243.1 1193.2 243.2 1194.2 243.7 1195.2 244.6 1196.5 246.3 1198.5 249.6 1204.4 260.8 1206.4 264.0 1208.1 266.1 1210.1 268.0 1211.7 269.0 1213.4 269.5 1215.0 269.4 1216.3 268.9 1218.0 267.8 1219.3 266.6 1220.9 264.5 1222.6 261.9 1224.2 258.9 1229.5 247.9 1231.5 244.1 1232.8 242.1 1233.8 241.0 1234.8 240.3 1235.8 240.0 1236.8 240.2 1238.1 241.0 1239.1 242.2 1240.4 244.2 1242.4 248.1 1248.3 260.9 1250.3 264.6 1252.0 267.3 1253.6 269.5 1255.6 271.6 1257.6 273.3 1259.5 274.5 1261.9 275.4 1264.8 276.3 1268.1 276.8 1272.4 277.2 1286.9 277.7 1309.7 278.0" stroke="#000"/>
<path d="M1000.2 312.1L1016.7 312.0 1017.7 311.9 1019.3 311.0 1021.3 309.3 1025.3 305.4 1028.2 301.6 1029.6 300.2 1032.2 298.7 1033.9 298.3 1034.5 298.5 1036.5 299.9 1038.5 299.9 1042.4 299.7 1046.1 299.2 1048.0 298.9 1048.7 298.3 1049.7 296.1 1050.7 292.8 1052.3 286.4 1053.3 281.3 1055.3 267.7 1057.6 244.3 1058.9 235.3 1059.6 232.3 1059.9 231.7 1060.3 232.0 1060.6 233.0 1061.6 239.6 1062.9 251.6 1064.2 268.4 1065.9 285.3 1066.9 293.2 1067.8 298.5 1069.2 303.6 1070.2 305.8 1071.1 307.5 1072.1 308.8 1072.8 309.4 1074.8 310.6 1076.4 311.3 1078.1 311.5 1090.3 311.4 1138.5 310.6 1155.3 309.9 1160.2 309.4 1164.2 308.8 1167.8 307.8 1170.8 306.6 1173.4 305.0 1176.1 302.9 1178.4 300.6 1181.0 297.5 1187.9 287.8 1189.9 285.2 1191.9 283.1 1193.9 281.8 1195.2 281.4 1196.2 281.4 1197.5 281.8 1198.8 282.5 1201.5 284.9 1207.4 292.0 1210.4 295.0 1212.0 296.2 1213.4 296.9 1215.0 297.3 1216.3 297.4 1217.6 297.2 1219.0 296.7 1220.3 295.9 1221.6 294.9 1223.3 293.2 1224.9 291.3 1230.5 283.6 1232.8 280.8 1234.1 279.6 1235.1 278.9 1236.4 278.3 1237.4 278.2 1238.8 278.5 1240.1 279.2 1241.4 280.4 1242.7 281.8 1245.0 285.0 1251.6 295.2 1253.9 298.3 1255.9 300.6 1257.9 302.5 1259.9 304.1 1261.9 305.4 1263.8 306.4 1266.5 307.3 1269.1 308.0 1272.4 308.5 1276.4 308.9 1288.9 309.4 1309.7 309.7" stroke="#000"/>
<path d="M1000.2 343.4L1021.0 343.2 1022.6 342.5 1024.3 341.2 1028.9 336.8 1032.9 332.3 1033.5 331.7 1035.5 330.7 1036.5 330.4 1037.5 330.3 1038.1 330.6 1039.8 331.7 1040.5 331.8 1046.1 331.4 1049.0 330.9 1049.7 330.6 1050.7 328.7 1051.7 325.5 1053.7 317.6 1054.6 312.4 1056.6 298.8 1058.9 275.5 1060.3 266.4 1060.9 263.5 1061.2 263.0 1061.6 263.3 1061.9 264.4 1062.9 271.1 1064.2 283.1 1065.5 300.0 1067.2 316.8 1068.2 324.6 1069.2 329.8 1070.5 334.9 1071.5 337.1 1072.5 338.9 1073.5 340.2 1074.1 340.8 1076.1 341.9 1077.7 342.6 1079.1 342.8 1089.6 342.7 1139.8 341.9 1155.9 341.3 1160.9 340.9 1165.2 340.3 1168.8 339.5 1172.1 338.4 1175.1 337.0 1178.0 335.2 1180.7 333.3 1183.3 331.0 1190.9 323.3 1193.2 321.2 1195.5 319.5 1197.5 318.5 1198.8 318.1 1200.2 318.0 1201.5 318.1 1202.8 318.4 1205.4 319.7 1211.0 323.3 1213.7 324.8 1216.7 325.8 1219.3 325.8 1221.6 325.2 1223.9 324.0 1226.9 321.7 1232.2 316.7 1234.1 315.1 1236.4 313.8 1238.4 313.3 1239.4 313.4 1240.7 313.8 1242.1 314.5 1243.4 315.5 1246.3 318.6 1253.3 327.3 1257.2 331.6 1259.5 333.7 1261.9 335.4 1264.2 336.8 1266.5 337.8 1269.1 338.7 1271.8 339.3 1275.1 339.8 1279.0 340.2 1290.6 340.7 1309.7 341.0" stroke="#000"/>
<path d="M1000.2 375.0L1021.0 374.8 1022.6 374.0 1024.3 372.8 1028.9 368.3 1032.9 363.7 1033.5 363.2 1035.5 362.2 1036.5 361.8 1037.5 361.7 1038.1 362.0 1039.8 363.1 1040.5 363.3 1046.7 362.9 1050.4 362.3 1051.0 362.0 1052.0 360.3 1053.0 357.3 1055.0 349.9 1056.0 344.9 1057.9 331.6 1060.3 309.1 1061.6 300.3 1062.2 297.6 1062.6 297.1 1062.9 297.5 1063.2 298.6 1064.2 305.1 1065.5 316.8 1066.9 333.1 1068.5 349.4 1069.5 356.8 1070.5 361.9 1071.8 366.7 1072.8 368.9 1073.8 370.5 1074.8 371.8 1075.4 372.3 1077.1 373.3 1078.7 374.0 1080.4 374.3 1088.0 374.3 1137.1 373.4 1154.3 372.7 1159.9 372.2 1164.5 371.5 1168.5 370.7 1172.1 369.6 1175.7 368.1 1179.0 366.3 1182.0 364.4 1185.0 362.1 1196.2 352.3 1198.8 350.6 1201.5 349.4 1203.8 348.8 1206.4 348.8 1208.7 349.1 1215.7 350.6 1218.0 350.8 1220.0 350.8 1221.9 350.6 1224.2 350.1 1232.2 347.6 1233.8 347.3 1235.5 347.2 1237.1 347.3 1238.8 347.7 1240.4 348.4 1242.1 349.4 1245.4 351.9 1253.9 359.8 1258.6 363.6 1261.2 365.4 1263.5 366.7 1266.1 368.0 1268.8 369.0 1271.8 369.9 1274.7 370.5 1282.3 371.5 1292.9 372.0 1309.7 372.3" stroke="#000"/>
<path d="M1000.2 406.2L1021.0 406.0 1022.6 405.4 1024.3 404.3 1028.9 400.4 1032.9 396.4 1035.5 395.1 1036.5 394.8 1037.5 394.7 1039.8 395.9 1041.4 396.0 1048.4 395.5 1051.0 395.1 1051.7 394.7 1052.7 392.8 1053.7 389.9 1055.6 382.9 1056.6 378.2 1058.3 368.3 1060.6 347.9 1062.2 338.1 1062.9 336.1 1063.2 336.0 1063.6 336.7 1063.9 338.0 1064.9 344.4 1065.9 352.1 1067.5 370.0 1068.8 381.7 1069.8 388.8 1070.8 393.7 1072.1 398.3 1072.8 399.8 1074.1 401.9 1075.8 403.7 1077.7 404.8 1079.4 405.4 1081.0 405.6 1090.9 405.5 1142.4 404.7 1156.6 404.1 1161.9 403.5 1166.2 402.9 1169.8 402.1 1173.4 401.1 1176.7 399.9 1180.0 398.5 1186.0 395.3 1198.2 387.6 1201.1 386.0 1203.8 384.9 1208.4 383.5 1219.3 381.2 1229.5 378.0 1231.8 377.5 1233.8 377.4 1235.8 377.6 1237.4 378.0 1239.4 378.8 1241.4 379.9 1245.0 382.8 1253.9 391.1 1258.6 395.0 1261.2 396.8 1263.5 398.2 1266.1 399.5 1268.8 400.5 1271.8 401.4 1274.7 402.1 1278.4 402.6 1282.3 403.0 1292.5 403.5 1309.7 403.7" stroke="#000"/>
<path d="M1000.2 437.5L1021.3 437.4 1022.3 437.2 1024.0 436.5 1025.9 435.1 1029.9 431.8 1032.9 428.7 1034.2 427.5 1036.8 426.2 1037.8 426.0 1038.8 426.0 1040.8 427.1 1041.4 427.3 1048.0 426.9 1051.7 426.5 1052.7 426.2 1053.7 424.6 1054.6 421.8 1056.6 414.7 1057.6 410.2 1059.6 398.2 1061.9 377.6 1063.2 369.6 1063.9 367.0 1064.2 366.5 1064.5 366.6 1064.9 367.5 1065.9 373.3 1067.2 383.9 1068.5 398.7 1070.2 413.7 1071.1 420.6 1072.1 425.3 1073.5 429.8 1074.4 431.8 1075.4 433.3 1077.1 435.0 1079.1 436.1 1080.7 436.7 1082.4 436.9 1099.2 436.7 1141.1 435.9 1155.0 435.2 1159.9 434.7 1164.5 434.0 1168.5 433.1 1172.4 432.0 1176.4 430.5 1180.0 428.8 1186.6 425.1 1200.5 415.9 1203.8 414.1 1207.1 412.6 1211.0 411.3 1215.3 410.5 1221.9 409.7 1227.5 409.4 1230.8 409.5 1233.8 410.0 1236.8 410.8 1239.4 412.0 1241.7 413.4 1244.4 415.2 1254.3 422.9 1259.2 426.4 1262.2 428.2 1264.8 429.5 1267.5 430.7 1270.4 431.7 1273.4 432.5 1276.7 433.2 1284.3 434.2 1294.2 434.7 1309.7 434.9" stroke="#000"/>
<path d="M1000.2 468.8L1027.3 468.5 1029.2 467.8 1032.9 465.5 1038.8 460.1 1039.8 459.5 1040.8 459.3 1043.1 459.7 1045.7 459.3 1048.7 459.6 1050.0 459.6 1051.7 459.0 1053.0 458.0 1053.7 456.0 1055.3 449.0 1060.9 431.8 1061.6 429.4 1062.2 425.2 1063.6 409.4 1063.9 407.3 1064.5 405.3 1065.2 404.1 1065.5 404.0 1065.9 404.4 1066.2 405.5 1067.2 411.1 1068.2 418.1 1069.8 434.5 1071.1 445.4 1072.1 452.2 1073.1 456.8 1074.4 461.2 1075.1 462.6 1076.4 464.6 1077.4 465.8 1078.4 466.5 1081.7 467.9 1083.3 468.1 1098.5 468.0 1124.3 467.6 1139.8 467.2 1154.6 466.3 1160.6 465.7 1166.2 464.8 1170.5 464.0 1174.7 462.9 1182.7 460.3 1187.0 458.6 1191.6 456.4 1206.8 448.5 1212.4 445.9 1215.3 444.8 1218.3 443.8 1221.3 443.2 1223.9 442.8 1226.9 442.8 1230.2 443.1 1233.5 443.8 1236.8 444.8 1240.1 446.1 1243.7 447.7 1256.9 454.5" stroke="#000"/>
<path d="M1256.9 454.5L1263.2 457.4 1268.8 459.7 1274.4 461.5 1280.3 463.0 1286.6 464.2 1293.2 465.0 1300.8 465.6 1309.7 466.0" stroke="#c0c0c0"/>
<path d="M1000.2 500.2L1028.2 499.9 1030.2 499.2 1033.9 497.1 1039.8 492.1 1040.8 491.5 1041.8 491.4 1044.1 491.8 1046.7 491.4 1050.7 491.7 1052.0 491.3 1053.3 490.2 1054.0 489.5 1054.3 488.6 1056.3 480.6 1062.2 462.7 1062.9 459.7 1063.2 456.8 1064.5 441.5 1064.9 439.9 1065.5 438.1 1066.2 437.1 1066.5 437.0 1066.9 437.6 1067.2 438.8 1068.2 444.5 1069.2 451.4 1070.8 467.6 1072.1 478.1 1073.1 484.5 1074.1 488.8 1075.4 493.0 1076.1 494.3 1077.4 496.2 1079.1 497.8 1081.0 498.8 1082.7 499.3 1084.3 499.5 1103.5 499.3 1141.1 498.6 1155.9 497.7 1161.9 497.1 1167.5 496.2 1172.1 495.3 1176.4 494.2 1180.7 492.9 1184.6 491.5 1193.2 487.8 1208.1 480.0 1213.4 477.5 1216.3 476.3 1219.3 475.4 1221.9 474.7 1224.6 474.3 1227.2 474.2 1230.2 474.3 1232.8 474.7 1235.8 475.4 1238.8 476.4 1242.1 477.7 1250.6 481.9" stroke="#000"/>
<path d="M1250.6 481.9L1259.5 486.4 1265.8 489.3 1272.1 491.7 1278.4 493.6 1285.0 495.1 1292.2 496.1 1300.1 496.9 1309.7 497.3" stroke="#c0c0c0"/>
<path d="M1000.2 531.4L1030.2 531.1 1032.2 530.5 1035.8 528.5 1041.8 523.7 1043.1 523.0 1043.8 522.9 1046.1 523.3 1048.7 522.9 1052.7 523.3 1054.3 523.0 1056.0 522.4 1056.6 520.8 1058.3 514.9 1064.5 498.6 1065.2 495.2 1066.2 485.0 1066.9 480.1 1067.8 477.8 1068.5 477.3 1068.8 477.6 1069.2 478.4 1070.2 483.0 1071.1 488.8 1072.8 502.5 1074.4 513.7 1075.4 518.8 1076.4 522.2 1077.7 525.5 1079.7 528.1 1081.4 529.4 1083.3 530.1 1085.0 530.6 1086.6 530.7 1112.7 530.4 1142.1 529.8 1156.6 529.0 1162.5 528.3 1167.8 527.6 1176.4 525.7 1180.7 524.5 1184.6 523.2 1193.2 519.6 1208.1 512.4 1213.4 510.0 1219.3 508.0 1221.9 507.4 1224.6 507.0 1227.2 506.9 1230.2 507.0 1232.8 507.3 1235.8 508.0 1238.8 508.9 1242.1 510.2 1250.6 514.1" stroke="#000"/>
<path d="M1250.6 514.1L1259.5 518.4 1265.8 521.1 1272.1 523.3 1278.4 525.1 1285.0 526.5 1292.2 527.5 1300.1 528.1 1309.7 528.6" stroke="#c0c0c0"/>
<path d="M1000.2 562.6L1031.2 562.3 1033.2 561.7 1036.8 559.8 1042.8 555.2 1044.1 554.5 1044.7 554.5 1047.1 554.8 1049.7 554.4 1053.7 554.8 1055.3 554.5 1057.0 553.9 1057.6 552.4 1059.3 546.7 1065.5 531.0 1066.2 527.9 1067.2 518.0 1067.8 513.3 1068.8 511.0 1069.5 510.5 1069.8 510.8 1070.2 511.5 1071.1 516.0 1072.5 523.8 1073.8 534.7 1075.4 545.5 1076.4 550.4 1077.4 553.7 1078.7 556.9 1080.7 559.4 1082.4 560.6 1084.3 561.4 1086.0 561.8 1087.6 561.9 1114.0 561.6 1143.4 561.0 1157.9 560.2 1163.9 559.6 1169.1 558.8 1177.7 557.1 1186.0 554.6 1194.5 551.1 1209.1 544.3 1214.7 541.9 1220.3 540.0 1222.9 539.4 1225.6 539.0 1228.5 538.8 1231.2 539.0 1233.8 539.3 1236.8 539.9 1242.7 541.8 1250.6 545.3" stroke="#000"/>
<path d="M1250.6 545.3L1260.2 549.7 1266.5 552.3 1272.7 554.6 1278.7 556.2 1285.3 557.6 1292.2 558.6 1300.1 559.3 1309.7 559.8" stroke="#c0c0c0"/>
<path d="M1000.2 594.0L1032.5 593.7 1034.5 593.2 1038.1 591.4 1044.1 587.0 1045.4 586.3 1046.4 586.2 1048.4 586.5 1051.0 586.1 1055.3 586.5 1056.6 586.1 1057.9 585.3 1058.6 584.5 1060.6 577.7 1066.9 561.4 1067.5 558.4 1069.2 542.9 1070.2 540.4 1070.8 539.7 1071.1 539.8 1071.5 540.5 1072.5 544.9 1073.8 553.0 1075.1 564.3 1076.8 575.7 1077.7 580.9 1078.7 584.5 1080.0 588.0 1082.0 590.6 1083.7 591.9 1085.7 592.7 1087.3 593.2 1089.0 593.3 1112.1 593.1 1143.4 592.4 1157.9 591.6 1163.9 591.0 1169.1 590.3 1177.7 588.6 1186.0 586.2 1194.5 582.8 1209.1 576.1 1214.7 573.8 1220.3 572.0 1222.9 571.4 1225.6 571.0 1228.5 570.8 1231.2 570.9 1233.8 571.3 1236.8 571.9 1242.7 573.7 1250.6 577.1" stroke="#000"/>
<path d="M1250.6 577.1L1260.2 581.4 1266.5 584.0 1272.7 586.1 1278.7 587.8 1285.3 589.1 1292.2 590.1 1300.1 590.8 1309.7 591.2" stroke="#c0c0c0"/>
<path d="M1000.2 625.2L1002.2 624.9 1005.1 624.0 1006.1 623.9 1010.1 624.9 1012.7 625.2 1033.9 625.1 1035.8 624.5 1039.5 622.8 1045.4 618.5 1046.4 618.0 1047.4 617.9 1049.7 618.2 1052.3 617.8 1056.3 618.2 1057.3 617.9 1058.6 617.1 1059.6 616.2 1059.9 615.5 1061.9 608.7 1067.5 594.2 1068.2 592.2 1068.8 588.7 1070.2 575.4 1070.5 573.6 1071.1 572.0 1071.8 571.0 1072.1 570.8 1072.5 571.2 1072.8 572.1 1073.8 576.8 1074.8 582.7 1076.4 596.5 1077.7 605.6 1078.7 611.3 1079.7 615.1 1081.0 618.9 1081.7 620.0 1083.0 621.7 1084.7 623.1 1088.0 624.4 1089.9 624.7 1097.9 624.6 1121.3 624.3 1135.8 623.9 1149.7 623.0 1155.3 622.4 1160.6 621.6 1168.5 619.9 1176.1 617.6 1184.6 614.1 1199.5 607.1 1205.1 604.7 1211.0 602.8 1214.0 602.2 1216.7 601.9 1219.6 601.8 1222.9 602.1 1226.2 602.7 1229.5 603.7 1236.4 606.4 1250.6 613.0" stroke="#000"/>
<path d="M1250.6 613.0L1257.2 615.8 1263.2 617.9 1269.4 619.6 1275.7 620.9 1282.3 621.9 1289.9 622.6 1298.5 623.0 1309.7 623.3" stroke="#c0c0c0"/>
<path d="M1000.2 656.5L1002.2 656.2 1005.1 655.3 1006.1 655.2 1010.4 656.2 1013.1 656.5 1036.2 656.4 1038.1 655.8 1041.8 654.2 1047.7 650.2 1049.0 649.5 1049.7 649.5 1052.0 649.8 1054.6 649.4 1058.6 649.7 1059.3 649.6 1060.3 649.0 1061.6 647.8 1062.2 646.7 1064.2 639.8 1070.5 623.1 1071.1 619.9 1072.5 606.3 1072.8 604.1 1073.8 601.7 1074.4 601.0 1074.8 601.2 1075.1 601.9 1076.1 606.5 1077.4 614.8 1078.7 626.4 1080.4 638.0 1081.4 643.3 1082.4 647.0 1083.7 650.5 1085.7 653.2 1087.3 654.5 1090.6 655.7 1092.6 655.9 1108.8 655.6 1134.8 654.9 1147.7 654.0 1153.3 653.2 1158.2 652.4 1162.9 651.3 1167.2 650.1 1171.4 648.7 1175.7 647.0 1183.3 643.5 1198.2 635.8 1203.8 633.3 1209.1 631.6 1211.7 631.1 1214.0 630.8 1217.0 630.8 1220.3 631.1 1223.6 631.8 1227.2 633.0 1233.8 635.8 1250.6 644.3" stroke="#000"/>
<path d="M1250.6 644.3L1256.9 647.0 1262.8 649.1 1268.8 650.7 1275.1 651.9 1281.7 652.8 1289.2 653.5 1298.2 653.9 1309.7 654.1" stroke="#c0c0c0"/>
<path d="M1000.2 687.1L1002.2 686.8 1005.1 685.9 1006.1 685.8 1010.4 686.8 1013.1 687.1 1036.5 687.0 1038.8 686.4 1042.4 684.8 1048.0 681.1 1049.4 680.5 1050.4 680.4 1052.3 680.7 1055.0 680.4 1058.9 680.6 1059.6 680.5 1060.3 680.1 1061.6 678.9 1062.6 677.5 1064.9 669.6 1070.8 653.8 1071.5 650.9 1073.1 634.9 1074.1 632.2 1074.8 631.4 1075.1 631.5 1075.4 632.1 1076.4 636.5 1077.7 644.7 1079.1 656.3 1080.7 668.1 1081.7 673.6 1082.7 677.3 1084.0 680.9 1085.0 682.5 1086.0 683.7 1087.6 685.0 1090.6 686.2 1092.3 686.5 1095.6 686.4 1117.7 686.1 1131.9 685.6 1145.1 684.7 1150.7 684.0 1155.6 683.1 1159.9 682.2 1164.2 681.1 1168.5 679.7 1172.8 678.1 1180.4 674.8 1195.2 667.5 1200.8 665.1 1203.8 664.2 1206.4 663.5 1209.1 663.0 1211.4 662.8 1214.3 662.8 1217.6 663.1 1220.9 663.8 1224.6 665.0 1230.8 667.5 1244.0 673.9 1250.6 676.8" stroke="#000"/>
<path d="M1250.6 676.8L1256.6 679.0 1262.2 680.7 1268.1 682.0 1274.4 683.1 1281.0 683.8 1288.6 684.3 1297.8 684.6 1309.7 684.8" stroke="#c0c0c0"/>
<path d="M1000.2 719.1L1002.2 718.8 1005.1 717.9 1006.1 717.8 1010.4 718.8 1013.1 719.1 1037.2 718.9 1039.1 718.4 1042.8 716.6 1048.7 712.4 1050.0 711.7 1050.7 711.7 1053.0 712.0 1055.6 711.6 1059.6 712.0 1060.3 711.8 1061.2 711.3 1062.6 710.0 1063.2 709.0 1065.2 701.8 1071.5 684.5 1072.1 681.3 1073.8 664.9 1074.8 662.3 1075.4 661.6 1075.8 661.7 1076.1 662.5 1077.1 667.2 1078.4 675.8 1079.7 687.8 1081.0 697.6 1082.0 703.8 1083.0 708.0 1084.0 711.2 1084.7 712.8 1086.3 715.3 1087.3 716.3 1088.3 717.0 1091.3 718.1 1093.2 718.4 1100.8 718.3 1120.0 718.0 1132.5 717.5 1145.4 716.5 1151.0 715.8 1155.9 714.9 1160.2 713.9 1164.5 712.6 1168.8 711.2 1173.1 709.5 1180.4 706.1 1194.9 698.5 1200.8 695.9 1206.1 694.2 1208.7 693.7 1211.0 693.4 1214.3 693.4 1217.6 693.8 1220.9 694.5 1224.6 695.7 1230.8 698.4 1244.0 705.2 1250.6 708.2" stroke="#000"/>
<path d="M1250.6 708.2L1256.6 710.6 1262.2 712.4 1268.1 713.8 1274.4 714.9 1281.0 715.7 1288.6 716.2 1297.8 716.6 1309.7 716.8" stroke="#c0c0c0"/>
<path d="M1000.2 750.4L1002.2 750.1 1005.1 749.3 1006.1 749.2 1010.4 750.2 1013.1 750.4 1038.5 750.3 1039.5 750.1 1040.8 749.5 1044.4 747.0 1050.4 741.2 1051.3 740.5 1052.3 740.4 1054.6 740.8 1057.3 740.3 1061.2 740.7 1062.9 740.4 1064.5 739.6 1065.2 737.8 1066.5 732.6 1072.5 715.1 1073.1 712.7 1073.8 708.5 1075.1 693.5 1075.4 691.7 1076.1 689.8 1076.8 688.8 1077.1 688.7 1077.4 689.2 1077.7 690.3 1078.7 695.8 1079.7 702.5 1081.4 718.2 1082.7 728.5 1083.7 734.9 1084.7 739.2 1086.0 743.3 1086.6 744.6 1088.0 746.5 1089.6 748.1 1092.9 749.5 1094.9 749.8 1106.1 749.6 1120.6 749.2 1131.2 748.7 1137.8 748.2 1143.4 747.6 1148.7 746.8 1153.6 745.8 1157.9 744.7 1161.9 743.4 1165.8 742.0 1170.1 740.1 1177.7 736.2 1192.2 728.0 1197.8 725.3 1200.5 724.2 1203.1 723.4 1207.7 722.6 1210.7 722.5 1214.0 722.8 1217.3 723.5 1220.9 724.8 1224.2 726.2 1227.9 728.0 1241.7 735.7" stroke="#000"/>
<path d="M1241.7 735.7L1249.0 739.3 1255.6 742.1 1262.2 744.1 1269.1 745.7 1276.7 746.8 1285.3 747.5 1295.5 747.9 1309.7 748.1" stroke="#c0c0c0"/>
<path d="M1000.2 781.6L1002.2 781.3 1005.1 780.5 1006.1 780.4 1010.4 781.4 1013.1 781.6 1039.5 781.4 1041.4 780.6 1045.1 777.8 1049.0 773.4 1051.0 771.0 1052.3 769.9 1053.0 769.8 1055.3 770.3 1057.9 769.7 1061.9 770.3 1063.6 769.9 1065.2 769.1 1065.5 768.7 1066.2 767.0 1073.8 743.8 1074.4 740.2 1075.8 724.9 1076.1 722.4 1077.1 719.6 1077.7 718.8 1078.1 719.1 1078.4 719.9 1079.4 725.1 1080.7 734.4 1082.0 747.6 1083.7 760.7 1084.7 766.7 1085.7 770.8 1087.0 774.8 1088.0 776.5 1089.0 777.8 1090.6 779.3 1093.9 780.6 1095.9 780.9 1112.1 780.6 1123.9 780.2 1133.2 779.7 1139.8 779.1 1145.4 778.3 1150.7 777.3 1155.3 776.2 1159.6 774.9 1163.5 773.4 1167.5 771.6 1171.8 769.4 1179.0 765.1 1193.6 755.3 1199.2 752.0 1201.8 750.8 1204.4 749.8 1206.8 749.2 1209.1 748.8 1212.0 748.7 1215.3 749.0 1218.6 749.9 1221.9 751.2 1225.2 752.8 1228.9 754.9 1241.7 763.4" stroke="#000"/>
<path d="M1241.7 763.4L1249.3 768.1 1255.9 771.4 1262.5 774.0 1269.4 776.0 1277.0 777.4 1285.6 778.3 1295.8 778.9 1309.7 779.2" stroke="#c0c0c0"/>
<path d="M1000.2 812.2L1002.2 811.9 1005.1 811.1 1006.1 811.0 1010.4 812.0 1013.1 812.2 1040.5 812.1 1041.4 811.8 1042.8 811.1 1046.4 808.5 1050.4 804.4 1052.3 802.2 1053.3 801.4 1054.3 801.2 1056.6 801.7 1058.6 801.2 1059.3 801.1 1063.2 801.6 1064.9 801.3 1066.5 800.4 1067.2 799.2 1070.5 790.3 1075.1 776.9 1075.8 773.0 1077.1 758.9 1077.4 757.2 1078.1 755.5 1078.7 754.4 1079.1 754.3 1079.4 754.8 1079.7 755.7 1080.7 760.8 1081.7 767.1 1083.3 781.8 1084.7 791.5 1085.7 797.5 1086.6 801.5 1088.0 805.4 1088.6 806.6 1089.9 808.5 1091.6 809.9 1094.9 811.2 1096.9 811.5 1111.4 811.2 1124.6 810.8 1134.2 810.3 1140.8 809.8 1146.4 809.1 1151.7 808.1 1156.6 807.0 1160.9 805.7 1164.8 804.2 1168.8 802.6 1173.1 800.4 1180.4 796.2 1194.9 786.7 1200.5 783.6 1203.1 782.4 1205.8 781.4 1208.1 780.8 1210.4 780.4 1213.4 780.3 1216.7 780.6 1219.6 781.3 1222.9 782.5 1226.2 784.0 1229.9 786.1 1241.7 793.7" stroke="#000"/>
<path d="M1241.7 793.7L1249.3 798.3 1256.2 801.8 1263.2 804.5 1270.1 806.5 1277.4 807.9 1285.9 808.9 1296.2 809.5 1309.7 809.8" stroke="#c0c0c0"/>
<path d="M1000.2 843.0L1041.4 842.2 1042.4 842.0 1043.8 841.3 1047.4 838.8 1053.3 832.9 1054.3 832.2 1055.3 832.0 1057.6 832.4 1060.3 831.9 1064.2 832.3 1065.9 831.9 1067.5 831.1 1068.2 829.8 1076.1 807.8 1076.8 804.2 1078.1 790.5 1078.4 788.7 1079.1 787.1 1079.7 786.0 1080.0 785.9 1080.4 786.3 1080.7 787.2 1081.7 792.1 1082.7 798.2 1084.3 812.4 1085.7 821.7 1086.6 827.5 1087.6 831.4 1089.0 835.2 1089.6 836.4 1090.9 838.2 1091.9 839.1 1092.9 839.8 1096.2 840.9 1097.9 841.1 1116.3 840.8 1127.9 840.5 1136.8 840.0 1143.4 839.5 1149.0 838.8 1154.3 837.9 1159.2 836.8 1166.5 834.5 1170.1 833.0 1173.8 831.4 1177.7 829.3 1182.0 826.8 1196.5 817.3 1201.8 814.2 1204.8 812.7 1207.7 811.5 1210.4 810.7 1213.0 810.2 1216.0 810.0 1219.0 810.3 1221.9 810.9 1225.2 812.0 1228.5 813.5 1231.8 815.3 1241.7 821.6" stroke="#000"/>
<path d="M1241.7 821.6L1250.3 827.0 1257.2 830.8 1264.2 833.8 1271.1 836.0 1278.7 837.7 1286.9 838.7 1296.8 839.4 1309.7 839.8" stroke="#c0c0c0"/>
<path d="M1000.2 875.0L1032.5 874.4 1034.2 874.3 1037.5 873.4 1040.1 872.3 1044.7 868.8 1048.4 865.3 1051.3 863.8 1052.7 863.5 1055.6 864.0 1058.9 863.4 1059.9 863.6 1062.9 864.7 1063.6 864.8 1064.2 864.5 1064.9 863.8 1065.9 862.1 1067.8 856.8 1073.5 837.7 1079.4 815.6 1080.0 813.8 1080.4 813.5 1080.7 813.6 1081.0 814.3 1082.0 819.1 1083.3 827.9 1084.7 840.5 1086.3 853.3 1087.3 859.2 1088.3 863.2 1089.6 867.1 1090.6 868.8 1091.6 870.1 1093.2 871.6 1096.5 872.9 1098.5 873.1 1115.0 872.9 1128.2 872.5 1137.8 872.1 1144.4 871.5 1150.3 870.8 1155.6 869.9 1160.6 868.8 1167.8 866.5 1171.4 865.1 1175.1 863.4 1179.0 861.3 1183.3 858.8 1197.8 849.3 1203.1 846.2 1206.1 844.7 1209.1 843.5 1211.7 842.7 1214.3 842.2 1217.3 842.0 1220.3 842.2 1223.3 842.9 1226.2 843.8 1229.5 845.3 1232.8 847.1 1241.7 852.7" stroke="#000"/>
<path d="M1241.7 852.7L1250.6 858.4 1257.6 862.2 1264.5 865.4 1271.4 867.7 1279.0 869.5 1287.3 870.6 1297.2 871.4 1309.7 871.8" stroke="#c0c0c0"/>
<path d="M1000.2 904.8L1032.5 904.2 1034.2 904.0 1035.8 903.4 1037.5 902.6 1039.1 901.6 1040.1 900.8 1041.8 899.0 1044.7 895.1 1048.4 889.3 1050.0 887.7 1051.3 886.8 1052.7 886.4 1055.6 887.2 1058.9 886.2 1059.9 886.5 1062.9 888.4 1063.9 888.5 1064.5 888.1 1065.5 886.9 1066.5 885.1 1067.8 882.0 1069.2 878.2 1074.1 862.7 1080.0 839.9 1080.7 838.3 1081.0 838.2 1081.4 838.6 1081.7 839.6 1082.7 845.4 1083.7 852.4 1085.3 869.0 1086.6 880.0 1087.6 886.8 1088.6 891.4 1089.9 895.9 1090.6 897.3 1091.9 899.3 1093.6 901.0 1095.2 901.9 1096.9 902.5 1098.9 902.8 1111.4 902.6 1123.9 902.2 1133.5 901.7 1140.1 901.1 1145.7 900.3 1150.7 899.3 1155.6 898.1 1159.9 896.7 1163.9 895.1 1167.8 893.3 1172.1 891.0 1179.4 886.4 1193.6 876.6 1199.2 873.2 1201.8 871.9 1204.4 870.9 1206.8 870.3 1209.1 869.9 1212.0 869.8 1215.3 870.1 1218.6 871.0 1221.9 872.4 1225.2 874.1 1228.9 876.3 1241.7 885.1" stroke="#000"/>
<path d="M1241.7 885.1L1249.3 890.0 1255.9 893.5 1262.5 896.2 1269.4 898.2 1277.0 899.7 1285.6 900.7 1295.8 901.3 1309.7 901.7" stroke="#c0c0c0"/>
<path d="M1000.2 931.8L1032.5 931.1 1034.2 930.8 1035.8 930.1 1037.5 929.0 1039.1 927.7 1040.1 926.6 1041.8 924.1 1044.7 918.8 1048.4 911.0 1049.7 909.3 1051.7 907.5 1053.0 906.9 1055.6 906.1 1057.9 905.0 1058.9 904.8 1059.3 904.9 1059.9 905.6 1062.2 910.0 1062.9 910.9 1063.6 911.1 1064.2 911.0 1064.9 910.5 1066.5 908.5 1068.5 904.5 1070.5 899.4 1074.1 889.1 1075.8 883.4 1081.0 861.9 1081.7 860.1 1082.0 859.9 1082.4 860.3 1083.0 863.1 1084.7 875.0 1086.6 895.8 1088.0 907.1 1089.0 913.5 1090.3 919.0 1091.3 921.8 1092.9 924.2 1093.9 925.1 1094.9 925.6 1106.4 928.7 1110.1 929.1 1115.0 929.2 1126.9 928.8 1136.8 928.0 1145.1 926.8 1152.3 925.0 1156.9 923.5 1161.2 921.7 1165.5 919.6 1169.8 917.1 1177.4 911.8 1192.6 899.9 1198.2 896.2 1200.8 894.8 1203.5 893.7 1206.1 892.9 1208.4 892.5 1211.4 892.5 1214.7 893.0 1218.0 894.1 1221.3 895.7 1224.6 897.8 1228.2 900.3 1241.7 910.8" stroke="#000"/>
<path d="M1241.7 910.8L1249.0 915.9 1255.6 919.8 1262.2 922.7 1269.1 924.9 1276.7 926.5 1285.3 927.6 1295.5 928.2 1309.7 928.6" stroke="#c0c0c0"/>
<path d="M1000.2 960.4L1032.9 959.2 1033.9 958.9 1034.8 958.4 1036.8 956.8 1039.1 954.4 1040.8 951.6 1045.1 941.2 1048.4 931.3 1049.7 929.0 1051.7 926.7 1054.3 924.2 1057.0 922.1 1057.9 921.4 1058.9 921.2 1059.3 921.3 1059.9 922.2 1062.2 928.1 1062.9 929.3 1063.2 929.6 1064.2 929.5 1065.5 928.7 1066.9 927.3 1068.2 925.4 1069.8 922.4 1071.5 918.9 1074.4 912.1 1075.4 909.4 1076.8 904.8 1080.0 891.9 1081.7 884.6 1082.4 883.1 1082.7 883.2 1083.3 885.4 1085.0 897.6 1087.0 919.5 1088.3 931.7 1089.3 939.0 1090.6 945.2 1091.6 948.4 1092.3 949.7 1093.2 951.2 1094.2 952.2 1095.2 952.8 1097.5 952.8 1101.2 951.9 1102.8 951.9 1104.5 952.4 1109.1 954.7 1111.4 955.5 1114.7 956.0 1119.6 956.2 1129.2 955.8 1137.8 955.1 1145.4 954.0 1152.0 952.4 1156.6 950.9 1160.9 949.2 1165.2 947.1 1169.5 944.7 1177.1 939.6 1191.9 928.3 1197.5 924.7 1200.2 923.3 1202.8 922.2 1205.4 921.4 1207.7 921.1 1210.7 921.0 1214.0 921.5 1217.3 922.6 1220.6 924.2 1223.9 926.1 1227.5 928.6 1241.7 939.4" stroke="#000"/>
<path d="M1241.7 939.4L1247.0 943.0 1251.6 945.9 1256.2 948.3 1261.2 950.4 1266.1 952.1 1271.4 953.5 1277.0 954.5 1283.3 955.3" stroke="#c0c0c0"/>
<path d="M1283.3 955.3L1294.2 956.1 1309.7 956.5" stroke="#000"/>
<path d="M1000.2 988.1L1032.9 986.5 1034.5 985.8 1036.2 984.4 1039.1 980.9 1040.1 979.0 1041.1 976.7 1044.7 966.3 1047.7 955.7 1049.0 952.1 1050.0 950.4 1052.7 947.1 1055.3 943.0 1057.0 941.3 1057.9 940.6 1058.9 940.2 1059.3 940.4 1060.3 942.4 1062.6 949.8 1063.2 950.8 1063.6 950.9 1064.9 950.5 1066.5 949.3 1068.2 947.5 1070.2 944.5 1074.1 937.0 1075.4 934.2 1076.1 932.3 1077.4 927.7 1080.7 914.6 1082.0 908.3 1082.7 906.2 1083.0 905.9 1083.3 906.4 1084.0 909.4 1085.7 922.7 1087.6 946.0 1089.0 958.7 1089.9 966.0 1091.3 972.4 1092.3 975.7 1093.2 977.8 1094.6 979.7 1095.6 980.6 1096.5 981.1 1098.2 981.5 1099.8 981.3 1100.8 980.9 1105.1 978.2 1106.1 977.9 1107.1 977.7 1108.1 977.9 1109.1 978.3 1113.0 980.7 1115.0 981.7 1117.0 982.4 1119.0 982.8 1122.3 983.0 1127.2 983.0 1141.1 982.4 1151.3 981.4 1161.2 980.0 1170.5 978.4 1188.6 974.7 1196.2 973.5 1203.8 972.7 1211.0 972.5 1218.0 972.9 1225.6 973.9 1232.5 975.2 1255.3 980.0 1262.8 981.3 1270.4 982.4 1279.0 983.3 1287.9 984.0 1297.8 984.6 1309.7 985.0" stroke="#000"/>
<path d="M1000.2 1015.8L1031.9 1015.4 1034.8 1015.1 1037.8 1014.6 1039.5 1014.2 1040.1 1013.7 1040.8 1012.9 1041.8 1010.9 1044.4 1004.0 1045.4 999.9 1048.0 986.9 1050.7 976.9 1051.3 974.9 1052.0 973.5 1052.3 973.2 1052.7 973.1 1058.9 973.0 1060.6 973.4 1062.2 974.1 1062.9 974.6 1063.9 975.9 1066.5 979.8 1067.8 981.2 1068.8 981.4 1069.2 981.2 1069.8 980.2 1070.5 978.4 1071.5 974.9 1075.4 959.3 1080.0 940.2 1082.4 933.4 1083.0 931.9 1083.3 931.6 1083.7 931.7 1084.0 932.6 1085.0 939.1 1086.3 951.3 1088.0 972.6 1089.3 986.4 1090.3 994.7 1091.3 1000.3 1092.6 1005.8 1093.6 1008.1 1094.6 1010.0 1095.6 1011.3 1096.2 1012.0 1097.9 1013.0 1099.2 1013.6 1100.5 1013.9 1101.5 1013.9 1103.5 1013.6 1105.5 1013.1 1108.4 1011.8 1113.0 1008.9 1114.0 1008.5 1115.0 1008.3 1116.0 1008.5 1117.0 1008.8 1121.6 1011.6 1123.9 1012.6 1126.6 1013.2 1130.2 1013.6 1137.8 1013.6 1149.7 1013.2 1197.2 1010.9 1206.8 1010.7 1216.0 1010.6 1234.5 1011.2 1281.3 1014.2 1309.7 1015.4" stroke="#000"/>
<path d="M1000.2 1044.9L1004.8 1044.8 1010.1 1044.3 1020.0 1043.0 1024.6 1042.2 1028.6 1041.3 1032.2 1040.1 1035.5 1038.7 1037.5 1037.4 1039.1 1035.9 1040.8 1034.1 1042.8 1031.5 1044.1 1029.3 1045.7 1024.6 1049.0 1013.6 1051.0 1006.3 1051.7 1004.6 1052.3 1003.6 1053.0 1003.6 1054.0 1004.0 1057.3 1006.4 1058.6 1007.0 1060.3 1006.9 1063.9 1006.2 1065.5 1006.1 1065.9 1006.4 1066.5 1007.7 1068.5 1013.9 1069.2 1015.4 1069.5 1015.8 1069.8 1016.0 1070.5 1015.6 1071.5 1013.8 1072.5 1010.9 1076.8 993.6 1078.1 987.0 1080.7 971.7 1082.0 965.4 1083.0 962.3 1083.7 961.4 1084.0 961.2 1084.3 961.8 1084.7 963.1 1085.7 970.6 1087.0 983.8 1088.3 1002.0 1089.6 1016.6 1090.6 1025.7 1091.6 1031.9 1092.9 1037.8 1093.6 1039.8 1094.9 1042.5 1096.5 1044.8 1098.2 1045.9 1099.8 1046.8 1101.5 1047.2 1103.8 1047.2 1108.4 1046.9 1111.7 1046.4 1114.7 1045.4 1120.3 1042.1 1121.3 1041.6 1122.3 1041.5 1123.3 1041.5 1124.6 1042.0 1128.9 1044.7 1130.9 1045.6 1133.2 1046.4 1135.5 1046.8 1139.1 1047.1 1145.1 1047.2 1168.8 1047.3 1189.3 1047.0 1204.8 1046.2 1218.0 1044.9 1243.0 1041.5 1249.3 1041.0 1254.9 1040.8 1260.5 1041.0 1266.5 1041.5 1293.5 1045.2 1301.5 1046.1 1309.7 1046.7" stroke="#000"/>
<path d="M1449.0 258.1L1454.3 257.8 1459.2 257.0 1460.5 256.1 1461.9 254.5 1466.8 246.2 1471.8 240.1 1473.7 236.8 1474.4 234.9 1475.4 230.8 1478.7 213.8 1479.7 210.0 1480.3 208.4 1480.7 208.0 1481.3 207.6 1484.3 207.0 1485.3 206.6 1485.6 206.1 1486.3 204.6 1486.9 202.3 1487.9 197.8 1490.9 180.9 1492.2 170.6 1495.9 137.8 1498.8 117.3 1499.8 112.2 1500.5 109.9 1501.8 106.4 1502.5 105.3 1502.8 105.1 1503.1 105.3 1503.4 106.4 1504.1 110.9 1506.4 134.3 1509.4 176.8 1512.0 222.0 1513.0 234.3 1513.7 238.6 1514.7 243.5 1516.3 249.4 1517.0 250.9 1517.6 251.8 1519.0 253.1 1520.3 254.0 1521.9 254.8 1523.6 255.3 1532.2 256.9 1544.7 257.6 1558.9 257.6 1574.4 257.3 1583.0 257.0 1591.9 256.4 1595.2 256.0 1598.8 255.3 1602.1 254.2 1606.4 252.1 1612.3 248.5 1618.6 245.7 1621.2 244.0 1622.6 242.9 1624.2 241.0 1625.9 238.7 1627.5 236.0 1629.5 232.4 1631.8 227.6 1633.1 224.5 1634.4 220.8 1636.8 213.0 1639.7 201.2 1644.3 176.8 1645.7 170.7 1649.0 158.3 1650.0 156.1 1650.6 155.7 1650.9 155.7 1651.6 156.3 1652.9 158.7 1654.2 162.3 1656.2 168.7 1657.2 172.8 1659.9 187.6 1661.2 193.5 1662.8 199.4 1664.5 204.6 1666.1 209.2 1667.8 213.1 1671.4 220.4 1673.4 223.7 1675.7 227.1 1681.0 233.5 1686.3 239.3 1689.2 242.3 1690.9 243.6 1693.2 245.1 1698.1 247.7 1702.4 249.2 1707.4 250.3 1711.7 250.6 1720.2 250.4 1723.5 250.5 1727.2 250.8 1735.4 252.1 1741.4 252.6 1748.3 252.7 1760.5 252.5" stroke="#000"/>
<path d="M1449.0 292.5L1453.9 292.5 1455.6 292.2 1457.2 291.6 1459.9 290.4 1463.2 288.6 1464.5 287.6 1466.2 285.9 1469.5 281.5 1471.4 278.3 1472.4 276.3 1474.1 271.6 1478.0 258.1 1479.0 255.2 1480.0 252.9 1481.0 251.4 1481.7 251.0 1485.3 250.8 1485.6 250.5 1486.3 249.2 1487.3 245.6 1488.3 240.5 1493.5 208.2 1496.8 183.9 1499.2 161.5 1500.1 154.2 1501.8 147.9 1502.5 146.4 1502.8 146.1 1503.1 146.1 1503.4 146.8 1503.8 148.3 1505.1 158.4 1505.8 168.7 1507.1 194.7 1507.7 203.5 1510.0 229.5 1512.4 250.4 1515.3 274.4 1516.6 283.2 1517.3 285.8 1517.6 286.5 1519.9 288.6 1521.9 289.7 1523.9 290.3 1526.5 290.6 1534.5 291.0 1535.5 291.2 1538.1 292.4 1539.1 292.5 1545.0 292.5 1575.7 291.3 1583.3 290.9 1590.9 290.2 1594.2 289.7 1597.8 288.9 1601.1 287.7 1605.4 285.5 1611.3 281.4 1617.6 278.3 1620.3 276.5 1621.6 275.3 1623.2 273.2 1624.9 270.7 1626.5 267.8 1628.8 263.1 1631.1 257.8 1633.5 251.2 1635.8 242.7 1638.7 229.9 1643.4 203.5 1644.7 196.8 1648.0 183.4 1649.0 181.0 1649.6 180.5 1650.0 180.6 1650.6 181.2 1651.9 183.8 1653.3 187.7 1655.6 195.9 1656.6 200.8 1659.5 218.5 1661.2 225.4 1662.8 231.3 1664.5 236.5 1666.1 240.9 1668.1 245.7 1670.1 249.8 1673.1 255.1 1676.4 260.0 1683.6 268.9 1687.6 273.4 1690.2 275.7 1693.8 278.1 1697.5 280.1 1701.4 281.7" stroke="#000"/>
<path d="M1701.4 281.7L1705.4 282.9 1709.7 283.9 1717.6 285.2 1722.2 285.7 1760.5 284.3" stroke="#c0c0c0"/>
<path d="M1449.0 325.8L1460.2 325.8 1462.2 325.7 1464.8 325.1 1467.5 324.3 1469.1 323.1 1471.1 320.6 1474.4 315.1 1475.7 312.1 1478.7 304.2 1480.0 301.0 1485.3 291.2 1488.9 284.0 1489.9 281.4 1490.9 278.1 1492.6 269.9 1497.5 237.5 1500.1 217.8 1501.1 211.6 1501.8 208.5 1503.4 203.1 1504.4 201.0 1504.8 200.7 1505.1 200.6 1505.4 201.3 1506.1 204.4 1507.7 218.1 1508.7 233.2 1511.0 276.7 1512.4 293.0 1513.7 306.3 1514.7 312.6 1516.3 319.6 1517.3 322.0 1519.3 323.5 1521.3 324.4 1523.6 325.1 1527.9 325.6 1531.2 325.8 1545.0 325.8 1572.7 324.8 1581.3 324.3 1589.6 323.6 1595.5 322.4 1599.1 321.1 1603.4 318.8 1609.0 315.1 1615.3 312.0 1618.3 310.0 1619.6 308.7 1621.2 306.6 1622.9 304.1 1624.5 301.2 1626.5 297.2 1628.8 292.0 1631.1 285.6 1633.5 277.3 1636.4 264.8 1637.7 258.0 1641.0 238.8 1642.4 232.1 1645.7 218.7 1646.7 216.2 1647.3 215.6 1647.6 215.6 1648.3 216.1 1649.0 217.1 1649.6 218.5 1650.9 222.3 1653.3 230.3 1654.2 235.0 1657.2 252.5 1658.9 259.3 1660.8 266.3 1662.5 271.4 1664.5 276.5 1666.5 281.0 1668.4 284.9 1671.4 290.0 1674.7 294.6 1682.3 303.8 1685.9 307.7 1688.9 310.1 1693.2 312.7 1697.1 314.6 1701.4 316.1" stroke="#000"/>
<path d="M1701.4 316.1L1705.1 317.0 1708.7 317.7 1716.3 318.9 1720.6 319.3 1760.5 317.9" stroke="#c0c0c0"/>
<path d="M1449.0 358.3L1464.2 358.3 1465.5 358.0 1466.8 357.6 1469.8 356.0 1471.4 354.7 1472.8 352.8 1476.4 346.1 1482.3 336.6 1486.0 329.1 1488.6 324.4 1489.6 323.1 1490.2 322.6 1490.9 322.6 1491.9 322.9 1493.2 323.7 1493.9 324.5 1495.9 327.8 1496.5 328.3 1496.8 328.0 1497.5 325.0 1498.5 315.7 1500.8 286.8 1503.1 254.6 1504.4 244.5 1505.1 241.2 1505.4 240.4 1505.8 240.4 1506.4 243.7 1508.4 262.0 1510.7 288.7 1513.3 324.6 1514.0 331.5 1515.3 342.1 1516.3 348.3 1517.0 350.9 1518.0 352.8 1519.0 354.3 1519.9 355.4 1520.9 356.1 1522.9 357.0 1525.2 357.7 1527.5 358.1 1529.5 358.2 1545.0 358.2 1551.0 357.9 1563.2 357.3 1572.4 356.4 1593.9 353.0 1596.5 352.4 1601.5 350.7 1607.4 347.8 1614.0 345.4 1616.6 343.9 1617.9 342.8 1619.6 340.9 1621.2 338.7 1622.9 336.2 1624.9 332.6 1627.2 328.1 1629.5 322.4 1631.8 315.0 1634.8 304.0 1639.4 281.0 1640.7 275.4 1644.0 263.7 1645.0 261.8 1645.7 261.4 1646.0 261.5 1646.7 262.0 1648.0 264.3 1649.3 267.7 1651.6 274.9 1652.6 279.2 1655.6 294.5 1657.2 300.4 1658.9 305.5 1660.5 310.0 1662.5 314.6 1664.8 319.2 1667.1 323.1 1670.1 327.4 1673.4 331.4 1681.0 339.4 1684.6 342.7 1688.2 345.1 1692.5 347.2 1696.5 348.8 1701.4 350.1" stroke="#000"/>
<path d="M1701.4 350.1L1705.7 351.0 1712.3 351.9 1718.9 352.5 1760.5 351.2" stroke="#c0c0c0"/>
<path d="M1449.0 390.8L1464.2 390.7 1466.8 390.1 1469.8 388.7 1471.4 387.5 1472.8 385.8 1476.4 379.9 1482.3 371.4 1486.0 364.6 1488.6 360.4 1489.6 359.2 1490.2 358.8 1490.9 358.8 1491.9 359.1 1493.2 359.8 1493.9 360.5 1495.9 363.5 1496.5 363.9 1496.8 363.7 1497.5 362.1 1498.5 356.9 1504.8 310.1 1506.4 300.9 1507.1 298.3 1507.4 297.8 1507.7 298.0 1508.4 301.0 1510.4 315.5 1512.7 336.7 1515.3 364.9 1516.0 370.2 1517.3 378.5 1518.3 383.2 1519.0 385.1 1520.9 387.7 1521.9 388.5 1522.9 389.1 1527.2 390.2 1531.2 390.7 1545.0 390.6 1557.2 390.0 1564.2 389.4 1569.1 388.4 1573.4 387.0 1577.0 385.1 1584.6 380.5 1586.3 379.7 1587.9 379.2 1591.2 378.9 1598.8 379.3 1608.4 379.0 1611.3 378.5 1612.7 378.0 1614.0 377.3 1615.3 376.3 1617.0 374.7 1619.9 371.1 1623.9 365.0 1625.9 361.0 1628.2 354.9 1631.1 345.9 1635.8 327.2 1637.1 322.5 1640.4 313.0 1641.4 311.4 1642.0 311.0 1643.0 311.5 1644.3 313.3 1645.7 316.1 1648.0 322.0 1649.0 325.5 1651.9 338.0 1653.6 342.8 1655.6 347.8 1657.5 352.0 1659.5 355.6 1661.8 359.2 1664.1 362.3 1667.4 366.0 1671.1 369.4 1678.0 375.3 1682.0 378.1 1686.3 380.1 1690.9 381.8 1695.8 383.1 1701.4 384.0" stroke="#000"/>
<path d="M1701.4 384.0L1710.7 385.1 1716.0 385.4 1760.5 384.0" stroke="#c0c0c0"/>
<path d="M1449.0 422.9L1464.2 422.9 1466.8 422.2 1469.8 420.8 1471.4 419.6 1472.8 417.9 1476.4 411.8 1482.3 403.2 1486.0 396.3 1488.6 392.1 1489.6 390.9 1490.2 390.5 1490.9 390.4 1492.9 391.3 1493.9 392.2 1495.9 395.2 1496.5 395.6 1496.8 395.5 1497.2 395.2 1497.8 394.0 1498.8 390.7 1502.5 374.3 1507.7 354.7 1509.1 349.1 1509.7 347.1 1510.0 346.9 1510.4 347.4 1511.0 350.3 1513.0 362.4 1515.3 379.9 1517.6 400.3 1518.3 405.0 1519.6 412.0 1520.6 416.2 1521.3 418.0 1522.3 419.3 1523.2 420.3 1524.2 421.0 1525.6 421.6 1529.2 422.5 1532.8 422.9 1548.7 422.8 1553.9 422.4 1559.5 421.7 1565.5 420.5 1567.5 419.7 1569.4 418.5 1571.4 416.8 1578.4 409.9 1580.0 407.8 1584.3 401.3 1585.6 399.7 1586.6 398.9 1587.3 398.6 1588.3 398.5 1597.8 398.0 1600.8 397.6 1602.8 397.0 1604.8 396.0 1607.7 394.3 1609.0 393.3 1611.0 391.3 1613.7 387.8 1619.6 379.2 1625.5 369.7 1627.8 366.6 1630.5 363.5 1632.5 361.7 1635.4 360.1 1637.4 359.6 1638.4 359.7 1639.7 360.3 1642.0 361.9 1642.7 362.7 1644.0 365.0 1647.0 371.5 1657.9 390.3 1659.5 392.8 1662.8 397.1 1664.8 399.4 1666.8 401.4 1669.1 403.2 1672.4 405.1 1686.3 411.6 1689.2 412.7 1696.2 414.8 1698.8 415.3 1701.4 415.5" stroke="#000"/>
<path d="M1701.4 415.5L1725.9 415.7 1760.5 415.6" stroke="#c0c0c0"/>
<path d="M1449.0 455.3L1465.2 455.3 1467.5 454.8 1470.4 453.5 1472.1 452.5 1473.7 450.5 1477.4 444.6 1483.3 436.1 1487.3 428.8 1489.6 425.1 1490.6 423.9 1491.2 423.4 1491.9 423.3 1492.9 423.6 1493.9 424.1 1494.9 424.9 1496.5 427.5 1497.2 428.2 1497.8 428.4 1498.2 428.1 1498.8 426.6 1499.8 422.6 1503.8 398.5 1510.4 363.9 1511.0 361.0 1511.4 360.4 1511.7 360.5 1512.4 363.3 1514.3 378.1 1516.6 399.7 1519.3 428.6 1519.9 434.0 1521.3 442.6 1522.3 447.5 1522.9 449.4 1523.9 451.0 1524.9 452.2 1525.9 453.0 1526.9 453.6 1530.5 454.7 1534.1 455.3 1548.0 455.2 1552.6 454.8 1557.2 454.0 1562.8 452.7 1566.5 451.5 1569.1 449.9 1571.8 447.6 1573.7 445.2 1576.0 441.5 1578.0 437.3 1585.0 418.7 1587.3 414.3 1588.3 413.0 1589.2 412.2 1590.9 411.2 1592.2 411.1 1596.5 412.1 1600.5 413.5 1601.8 413.6 1602.8 413.5 1604.8 412.9 1620.6 406.4 1623.6 405.9 1627.2 405.5 1628.8 405.6 1630.2 406.1 1632.1 407.4 1635.8 410.3 1641.4 416.3 1646.7 422.9 1652.6 429.9 1657.2 434.4 1658.9 435.7 1660.8 436.9 1664.1 438.6 1669.4 440.9 1673.4 442.3 1677.0 443.4 1682.3 444.6 1693.8 446.9 1697.8 447.4 1701.4 447.6" stroke="#000"/>
<path d="M1701.4 447.6L1760.5 447.5" stroke="#c0c0c0"/>
<path d="M1449.0 487.1L1466.5 487.1 1468.8 486.6 1471.4 485.4 1473.4 484.1 1475.1 482.1 1478.7 476.0 1484.6 467.3 1488.6 459.9 1490.9 456.2 1491.9 455.0 1492.9 454.4 1493.9 454.6 1494.9 455.1 1495.9 455.8 1498.2 459.2 1498.8 459.7 1499.2 459.6 1499.5 459.2 1500.1 457.7 1501.1 453.7 1504.8 432.6 1511.7 398.5 1512.4 396.3 1512.7 396.1 1513.0 396.9 1513.7 400.4 1515.7 415.0 1518.0 436.0 1520.3 460.5 1520.9 466.0 1522.3 474.3 1523.2 479.2 1523.9 481.3 1524.9 482.8 1525.9 484.0 1526.9 484.8 1528.2 485.6 1531.8 486.6 1535.1 487.0 1545.0 487.1 1547.3 486.8 1550.3 485.9 1562.5 481.1 1565.8 479.3 1568.5 477.0 1570.8 474.4 1572.4 472.0 1574.1 468.9 1576.0 464.5 1577.0 462.0 1578.4 457.8 1581.0 448.3 1583.3 439.2 1585.0 434.2 1586.9 429.3 1589.6 424.0 1590.6 422.5 1591.2 421.9 1591.6 421.8 1592.5 422.0 1593.9 422.6 1596.2 424.1 1597.5 425.2 1600.8 428.5 1604.8 433.3 1609.0 438.0 1612.7 441.4 1617.3 445.2 1628.2 453.4 1635.1 459.1 1638.1 461.4 1644.3 465.5 1650.9 469.3 1654.9 471.2 1659.9 473.0 1664.5 474.4 1669.4 475.4 1676.7 476.7 1689.9 478.4 1696.2 478.9 1701.4 479.1" stroke="#000"/>
<path d="M1701.4 479.1L1732.8 479.1 1760.5 479.3" stroke="#c0c0c0"/>
<path d="M1449.0 518.4L1467.5 518.3 1469.8 517.8 1472.4 516.6 1474.7 515.1 1476.1 513.5 1480.0 506.7 1485.6 498.4 1489.6 490.7 1492.2 486.4 1493.2 485.2 1494.2 484.7 1495.2 484.9 1496.2 485.4 1497.2 486.1 1499.5 489.6 1500.1 489.9 1500.5 489.8 1500.8 489.3 1501.5 487.6 1502.5 483.4 1506.1 461.3 1513.3 424.0 1514.0 421.8 1514.3 421.8 1514.7 422.7 1515.3 426.6 1517.3 441.9 1519.6 464.1 1521.9 489.8 1523.6 502.1 1524.6 507.7 1525.6 511.3 1527.2 513.6 1528.9 515.1 1530.2 515.7 1532.8 516.3 1535.1 516.6 1537.4 516.7 1545.0 516.1 1553.9 514.7 1559.2 513.3 1563.2 511.6 1564.8 510.6 1566.5 509.3 1569.1 506.6 1571.1 503.8 1572.7 500.8 1574.7 496.5 1576.4 492.0 1578.4 485.7 1580.3 478.4 1586.3 453.1 1588.3 445.6 1589.6 441.6 1590.6 439.4 1591.6 438.0 1592.5 437.5 1593.9 437.6 1595.5 438.7 1597.2 440.6 1598.8 443.3 1601.8 449.5 1608.7 466.3 1612.3 474.4 1616.3 481.9 1618.3 485.0 1620.3 487.7 1622.6 490.3 1624.9 492.6 1627.5 494.8 1630.5 497.0 1633.5 498.8 1636.8 500.6 1644.7 504.2" stroke="#000"/>
<path d="M1644.7 504.2L1651.9 506.8 1659.5 508.9 1667.1 510.5 1675.4 511.5 1684.3 512.2 1695.5 512.5 1710.3 512.6 1729.8 512.5" stroke="#c0c0c0"/>
<path d="M1729.8 512.5L1760.5 511.9" stroke="#000"/>
<path d="M1449.0 549.7L1468.8 549.6 1471.1 549.1 1473.7 547.8 1475.7 546.6 1477.4 544.6 1481.0 538.2 1486.9 529.1 1490.9 521.3 1493.5 516.9 1494.5 515.8 1495.2 515.4 1495.5 515.4 1497.2 515.9 1498.5 516.9 1500.8 520.4 1501.5 520.7 1502.1 520.0 1502.8 518.3 1503.8 514.2 1507.7 490.8 1514.3 458.8 1515.7 451.3 1516.3 449.1 1516.6 449.1 1517.0 450.0 1517.6 454.1 1519.6 470.2 1521.9 493.3 1524.2 520.1 1525.6 530.6 1526.5 536.9 1527.5 541.4 1527.9 542.3 1528.9 543.9 1529.8 545.1 1530.8 546.0 1532.2 546.8 1534.1 547.3 1536.8 547.8 1539.1 547.9 1545.4 547.4 1554.3 545.9 1559.2 544.6 1563.2 542.8 1564.8 541.7 1566.5 540.4 1569.1 537.6 1571.1 534.8 1572.7 531.9 1574.7 527.6 1576.4 523.2 1578.4 517.1 1580.3 510.0 1586.6 484.1 1588.6 476.8 1589.9 472.9 1590.9 470.7 1591.6 469.7 1592.2 469.0 1593.2 468.6 1594.5 469.0 1596.2 470.5 1597.5 472.4 1599.1 475.5 1602.1 482.7 1609.4 503.4 1613.0 512.9 1617.0 521.6 1618.9 525.2 1621.2 528.9 1623.6 531.9 1625.9 534.4 1628.5 536.6 1631.1 538.4 1634.1 539.9 1637.1 541.0 1640.7 541.9 1644.7 542.7" stroke="#000"/>
<path d="M1644.7 542.7L1650.0 543.3 1656.6 543.8 1674.0 544.4 1697.5 544.5 1729.8 544.0" stroke="#c0c0c0"/>
<path d="M1729.8 544.0L1760.5 543.3" stroke="#000"/>
<path d="M1449.0 581.2L1468.8 581.1 1471.1 580.6 1473.4 579.6 1475.7 578.2 1477.4 576.2 1481.0 569.8 1486.9 560.7 1490.9 552.9 1493.5 548.5 1494.5 547.3 1495.2 547.0 1495.5 546.9 1496.5 547.2 1497.5 547.7 1498.5 548.5 1500.8 552.0 1501.5 552.3 1502.1 551.7 1503.1 549.2 1504.1 545.1 1508.7 519.1 1516.3 485.1 1518.0 475.7 1518.3 474.7 1518.6 474.6 1519.0 475.6 1519.6 479.9 1521.6 496.9 1523.9 521.4 1526.2 549.8 1527.5 561.0 1528.5 567.7 1529.5 572.5 1529.8 573.5 1530.8 575.2 1531.8 576.5 1532.8 577.5 1534.1 578.3 1536.1 578.9 1538.8 579.4 1541.1 579.6 1546.7 579.2 1554.9 578.0 1560.2 576.8 1564.5 575.2 1567.8 573.2 1570.8 570.5 1572.7 568.1 1574.7 564.9 1576.7 561.0 1578.4 557.0 1580.3 551.5 1582.3 545.1 1588.6 521.8 1590.6 515.2 1591.9 511.8 1592.9 509.8 1593.5 508.9 1594.2 508.3 1595.2 508.0 1596.5 508.4 1598.2 509.8 1599.5 511.5 1601.1 514.4 1604.1 520.9 1611.0 538.7 1614.6 547.3 1618.6 555.2 1620.6 558.5 1622.6 561.4 1624.5 563.9 1626.9 566.3 1629.2 568.3 1631.8 570.0 1634.4 571.4 1637.4 572.5 1640.7 573.5 1644.7 574.2" stroke="#000"/>
<path d="M1644.7 574.2L1650.0 574.9 1656.2 575.4 1673.4 575.9 1696.8 576.0 1729.8 575.5" stroke="#c0c0c0"/>
<path d="M1729.8 575.5L1760.5 574.8" stroke="#000"/>
<path d="M1449.0 612.7L1469.5 612.6 1471.8 612.0 1474.1 611.0 1476.4 609.5 1478.0 607.5 1481.7 601.3 1487.6 592.5 1491.2 585.5 1493.9 581.2 1494.9 579.9 1495.5 579.5 1496.2 579.4 1497.2 579.7 1498.2 580.2 1499.2 581.1 1501.1 584.2 1501.8 584.6 1502.1 584.5 1502.5 584.2 1503.4 581.8 1504.8 575.9 1509.4 547.0 1517.0 509.2 1518.6 498.9 1519.0 497.6 1519.3 497.0 1519.6 497.6 1520.3 501.6 1522.3 519.8 1524.6 546.1 1526.9 577.0 1527.5 584.2 1528.5 592.3 1529.5 599.3 1530.5 604.1 1531.8 606.6 1533.5 608.7 1534.8 609.6 1536.1 610.1 1538.8 610.8 1541.4 611.1 1545.0 611.0 1553.9 610.0 1559.9 608.9 1564.5 607.5 1568.1 605.6 1569.8 604.5 1571.4 603.1 1573.4 600.9 1575.4 598.3 1577.4 594.9 1579.0 591.6 1581.0 587.0 1583.0 581.7 1589.6 561.2 1591.9 554.9 1593.2 552.1 1594.2 550.6 1595.5 549.4 1596.5 549.1 1597.8 549.5 1599.5 550.7 1600.8 552.2 1602.4 554.7 1605.4 560.4 1612.3 575.8 1616.0 583.3 1619.9 590.1 1623.6 595.1 1625.5 597.3 1627.8 599.5 1630.2 601.2 1632.5 602.6 1635.1 603.9 1638.1 605.0 1641.0 605.8 1644.7 606.4" stroke="#000"/>
<path d="M1644.7 606.4L1649.6 607.1 1655.9 607.5 1672.7 608.1 1696.2 608.2 1729.8 607.8" stroke="#c0c0c0"/>
<path d="M1729.8 607.8L1760.5 607.2" stroke="#000"/>
<path d="M1449.0 644.0L1451.0 643.3 1452.0 643.1 1453.0 643.2 1455.6 644.1 1457.2 644.4 1471.4 644.5 1473.4 644.2 1475.7 643.3 1478.7 641.6 1480.3 639.7 1484.0 633.6 1489.9 625.0 1493.9 617.6 1496.2 614.0 1497.2 612.7 1497.8 612.2 1498.5 612.1 1500.1 612.7 1500.8 613.0 1501.5 613.7 1503.1 616.2 1503.8 617.0 1504.4 617.2 1504.8 616.8 1505.8 613.7 1506.7 608.3 1511.0 575.1 1518.6 525.1 1519.3 522.3 1519.6 522.2 1519.9 523.2 1520.6 528.1 1522.6 547.6 1524.9 575.9 1527.2 608.6 1528.5 621.5 1529.5 629.3 1530.5 634.9 1530.8 636.1 1531.8 638.1 1532.8 639.6 1533.8 640.7 1534.8 641.5 1536.1 642.1 1538.8 642.9 1541.1 643.3 1544.7 643.3 1550.6 642.8 1558.2 641.8 1563.8 640.6 1566.1 639.9 1568.5 638.9 1572.1 636.8 1574.1 635.3 1576.0 633.3 1578.0 630.9 1580.0 628.1 1582.0 624.8 1584.3 620.4 1591.2 605.0 1593.9 599.8 1595.2 597.7 1596.5 596.3 1597.8 595.5 1598.8 595.3 1600.1 595.6 1601.8 596.5 1603.1 597.6 1604.8 599.5 1607.7 603.9 1614.6 615.7 1618.3 621.4 1621.9 626.2 1625.5 630.1 1627.5 631.8 1629.5 633.3 1631.5 634.5 1633.8 635.7 1636.1 636.6 1638.7 637.5 1644.7 638.6" stroke="#000"/>
<path d="M1644.7 638.6L1649.6 639.2 1655.6 639.6 1672.1 640.0 1695.8 639.9 1729.8 639.3" stroke="#c0c0c0"/>
<path d="M1729.8 639.3L1760.5 638.6" stroke="#000"/>
<path d="M1449.0 676.2L1451.0 675.4 1452.0 675.2 1453.0 675.4 1455.6 676.3 1457.6 676.6 1473.1 676.7 1475.1 676.4 1477.4 675.5 1480.3 673.9 1482.0 672.0 1485.6 666.2 1491.6 657.8 1495.5 650.5 1498.2 646.5 1499.2 645.4 1499.8 645.1 1500.5 645.1 1502.5 646.0 1503.1 646.6 1504.8 649.1 1505.4 649.8 1506.1 650.1 1506.4 649.7 1506.7 649.0 1507.4 646.4 1508.4 640.4 1512.0 609.4 1516.3 577.5 1519.6 554.5 1520.3 551.6 1520.6 551.5 1520.9 552.5 1521.6 557.5 1523.6 577.5 1525.9 606.4 1528.2 639.9 1529.5 653.3 1530.5 661.3 1531.5 667.1 1531.8 668.3 1532.8 670.3 1533.8 671.9 1534.8 673.1 1536.4 674.2 1539.4 675.2 1542.4 675.8 1545.0 675.9 1554.6 675.1 1561.5 674.2 1566.8 673.1 1571.1 671.6 1573.4 670.5 1575.4 669.3 1577.7 667.7 1579.7 666.0 1582.0 663.7 1584.3 661.1 1591.6 651.7 1594.2 648.7 1595.5 647.5 1596.8 646.5 1598.2 645.9 1599.5 645.7 1601.1 645.9 1602.8 646.4 1604.4 647.2 1606.1 648.4 1609.4 651.2 1616.3 658.0 1619.6 661.0 1623.2 663.8 1626.9 666.1 1630.8 668.1 1634.8 669.5 1639.4 670.6 1644.7 671.4" stroke="#000"/>
<path d="M1644.7 671.4L1654.9 671.9 1670.7 672.1 1694.8 671.7 1729.8 670.9" stroke="#c0c0c0"/>
<path d="M1729.8 670.9L1760.5 670.1" stroke="#000"/>
<path d="M1449.0 707.8L1451.0 707.1 1452.0 706.9 1453.0 707.1 1455.6 708.0 1457.6 708.3 1476.1 708.4 1478.0 708.1 1480.0 707.4 1483.3 705.6 1485.0 703.8 1488.9 697.2 1494.5 689.0 1498.5 681.5 1501.1 677.3 1502.1 676.1 1502.8 675.7 1503.4 675.7 1505.4 676.5 1506.4 677.5 1508.4 680.5 1509.1 680.9 1509.4 680.6 1509.7 679.9 1510.4 676.9 1511.4 669.5 1514.0 643.6 1518.3 604.8 1519.9 593.1 1520.6 589.9 1520.9 589.3 1521.3 589.7 1521.9 593.6 1523.9 612.3 1526.2 639.5 1528.9 675.5 1529.5 682.2 1530.8 692.8 1531.8 698.7 1532.5 701.0 1533.5 702.9 1534.5 704.3 1535.5 705.4 1536.8 706.3 1541.1 707.6 1544.7 708.1 1560.9 707.3 1566.1 706.8 1570.8 706.2 1575.7 705.2 1580.0 704.0 1585.3 702.0 1595.8 697.2 1598.8 696.3 1601.8 696.0 1605.1 696.2 1608.7 696.9 1621.9 701.0 1628.2 702.6 1634.8 703.6 1641.7 704.2 1647.6 704.3 1654.9 704.1 1681.6 702.7 1692.5 702.4 1702.1 702.4 1733.4 703.0 1760.5 702.7" stroke="#000"/>
<path d="M1449.0 740.0L1451.0 739.2 1452.0 739.1 1453.0 739.2 1455.9 740.2 1459.6 740.5 1477.7 740.5 1479.4 740.3 1481.3 739.6 1484.6 737.8 1486.3 736.1 1490.2 729.6 1496.2 720.9 1500.1 713.5 1502.5 709.9 1503.4 708.7 1504.1 708.2 1504.8 708.1 1505.8 708.4 1507.1 709.1 1507.7 709.8 1509.7 712.8 1510.4 713.3 1510.7 713.2 1511.4 711.7 1512.4 706.7 1515.3 683.1 1519.3 653.7 1521.3 641.7 1521.9 638.9 1522.3 638.5 1522.6 638.9 1523.2 642.3 1525.2 658.4 1527.5 681.7 1530.2 712.6 1532.2 727.3 1533.1 732.4 1533.8 734.3 1534.8 735.9 1535.8 737.1 1536.8 738.0 1538.1 738.8 1542.1 739.9 1545.4 740.3 1556.9 739.9 1565.8 739.4 1571.8 738.9 1577.0 738.3 1583.0 737.3 1595.5 734.9 1598.8 734.5 1602.1 734.3 1608.7 734.6 1626.9 736.8 1632.5 737.2 1638.1 737.4 1645.0 737.3 1652.9 737.0 1681.6 734.8 1693.2 734.3 1703.7 734.5 1735.4 735.7 1747.0 735.8 1760.5 735.8" stroke="#000"/>
<path d="M1449.0 772.5L1451.0 771.8 1452.0 771.6 1453.0 771.7 1455.9 772.7 1459.2 773.0 1479.4 773.1 1481.0 772.8 1482.7 772.2 1486.3 770.3 1487.9 768.5 1491.6 762.5 1497.5 754.0 1501.5 746.7 1504.1 742.6 1505.1 741.4 1505.8 741.1 1506.4 741.1 1508.4 741.9 1509.1 742.5 1511.4 745.8 1512.0 746.2 1512.4 745.9 1513.0 744.2 1514.0 739.3 1516.3 723.2 1520.3 697.5 1521.9 689.0 1522.6 686.6 1522.9 686.1 1523.2 686.3 1523.9 689.1 1525.9 702.8 1528.2 722.6 1530.8 749.0 1531.5 753.9 1532.8 761.6 1533.8 766.1 1534.5 767.8 1536.4 770.2 1537.4 771.0 1538.8 771.7 1543.0 772.7 1546.7 773.0 1614.6 771.2 1639.4 770.0 1677.0 766.9 1684.3 766.4 1691.2 766.2 1704.1 766.3 1738.4 767.6 1760.5 767.7" stroke="#000"/>
<path d="M1449.0 804.0L1451.0 803.2 1452.0 803.0 1453.0 803.2 1454.9 803.9 1456.3 804.1 1457.2 804.0 1459.6 803.1 1460.2 803.1 1463.2 804.2 1466.2 804.5 1480.7 804.5 1482.3 804.3 1484.0 803.8 1487.6 801.9 1489.3 800.2 1493.2 793.9 1499.2 785.4 1503.1 778.2 1505.4 774.6 1506.4 773.4 1507.1 772.9 1507.7 772.9 1508.7 773.1 1510.0 773.8 1510.7 774.5 1512.7 777.4 1513.3 777.9 1513.7 777.9 1514.3 776.8 1515.3 773.0 1518.0 757.8 1521.9 736.9 1523.6 729.5 1524.2 727.7 1524.6 727.6 1524.9 728.1 1525.6 731.1 1527.5 743.4 1529.8 761.1 1532.2 781.8 1532.8 786.5 1534.1 793.6 1535.1 797.8 1535.8 799.5 1536.8 800.9 1538.1 802.1 1539.1 802.8 1540.4 803.3 1544.7 804.2 1548.3 804.4 1596.5 803.4 1620.3 802.6 1631.1 802.0 1641.0 801.3 1651.9 800.3 1676.7 797.6 1683.9 797.0 1690.5 796.8 1696.8 796.8 1703.7 797.1 1727.8 798.8 1738.7 799.4 1749.3 799.8 1760.5 799.9" stroke="#000"/>
<path d="M1449.0 834.9L1451.0 834.1 1452.0 833.9 1453.0 834.1 1454.9 834.8 1456.3 835.0 1457.6 834.8 1459.9 834.0 1460.5 834.1 1462.9 835.0 1464.8 835.3 1481.7 835.4 1483.0 835.2 1484.6 834.7 1486.6 833.7 1488.6 832.4 1490.2 830.3 1493.9 823.9 1499.5 815.3 1500.8 813.0 1503.8 806.9 1506.1 803.0 1507.1 801.7 1508.1 801.1 1508.7 801.1 1509.7 801.5 1511.0 802.4 1513.0 805.5 1513.7 806.3 1514.3 806.5 1515.0 805.9 1515.7 804.4 1516.3 802.3 1519.6 788.4 1524.9 770.3 1526.2 764.9 1526.9 763.5 1527.2 763.6 1527.9 765.8 1529.8 777.0 1532.2 793.4 1534.8 815.2 1535.5 819.4 1536.8 825.8 1537.8 829.5 1538.4 831.0 1540.4 833.1 1541.4 833.7 1542.7 834.3 1546.7 835.1 1550.6 835.3 1596.5 834.5 1619.9 833.8 1641.0 832.6 1651.9 831.7 1676.7 829.3 1683.9 828.8 1690.5 828.6 1696.8 828.6 1703.7 828.8 1727.8 830.4 1738.7 831.0 1749.3 831.3 1760.5 831.4" stroke="#000"/>
<path d="M1449.0 866.6L1451.0 865.8 1452.0 865.6 1453.0 865.8 1454.9 866.5 1456.3 866.7 1457.6 866.5 1459.9 865.7 1460.5 865.8 1462.9 866.7 1464.8 867.0 1482.3 867.1 1483.6 866.9 1485.3 866.4 1487.3 865.3 1489.3 864.0 1490.9 861.9 1494.5 855.2 1500.1 846.2 1501.5 843.8 1504.4 837.5 1506.7 833.4 1507.7 832.0 1508.7 831.3 1509.4 831.3 1510.4 831.7 1511.4 832.3 1512.0 833.0 1513.7 835.9 1514.3 836.7 1515.0 837.0 1515.7 836.4 1516.3 834.9 1517.0 832.9 1520.3 819.3 1525.2 802.8 1526.5 797.5 1527.2 796.2 1527.5 796.4 1528.2 798.6 1530.2 809.7 1532.5 825.9 1535.1 847.4 1535.8 851.4 1537.1 857.8 1538.1 861.4 1538.8 862.8 1540.7 864.8 1541.7 865.5 1543.0 866.0 1547.0 866.8 1551.0 867.0 1595.5 866.1 1618.3 865.5 1640.4 864.5 1677.0 861.7 1690.9 861.1 1703.7 861.2 1738.7 862.7 1760.5 862.9" stroke="#000"/>
<path d="M1449.0 896.1L1456.3 897.0 1457.6 896.9 1459.9 896.4 1460.5 896.6 1463.2 897.9 1467.1 898.4 1482.0 898.5 1483.6 898.2 1485.3 897.6 1487.3 896.6 1489.3 895.2 1490.9 893.1 1494.5 886.2 1500.1 876.9 1501.5 874.4 1504.4 867.9 1506.7 863.7 1507.7 862.2 1508.4 861.6 1509.1 861.5 1510.0 861.8 1511.4 862.6 1512.0 863.3 1514.0 866.7 1514.7 867.3 1515.0 867.4 1515.3 867.2 1516.0 866.3 1517.3 862.6 1520.6 849.6 1526.2 832.4 1527.5 827.0 1528.2 825.5 1528.5 825.7 1529.2 828.0 1531.2 839.4 1533.5 856.0 1536.1 878.1 1536.8 882.3 1538.1 888.8 1539.1 892.6 1539.7 894.0 1541.7 896.1 1542.7 896.7 1544.0 897.3 1548.0 898.1 1552.0 898.3 1626.2 896.9 1645.3 896.0 1672.7 893.5 1682.6 893.1 1691.2 893.2 1711.7 894.4 1723.2 894.8 1737.7 894.9 1760.5 894.6" stroke="#000"/>
<path d="M1449.0 927.1L1456.3 928.4 1457.6 928.4 1459.6 927.9 1460.2 928.0 1463.2 929.4 1465.8 929.8 1468.1 930.0 1483.3 930.0 1485.0 929.7 1486.6 929.1 1488.6 928.0 1490.6 926.6 1492.2 924.3 1495.9 917.1 1501.5 907.5 1502.8 904.9 1505.8 898.1 1508.1 893.7 1509.1 892.2 1509.7 891.6 1510.4 891.5 1511.4 891.8 1512.7 892.6 1513.3 893.4 1515.3 897.0 1516.0 897.6 1516.3 897.6 1516.6 897.4 1517.3 896.4 1518.6 892.3 1522.3 877.0 1527.5 859.3 1529.2 852.4 1529.5 851.7 1529.8 851.7 1530.5 853.8 1532.5 865.9 1534.8 883.7 1537.4 907.5 1538.1 912.1 1539.4 919.2 1540.4 923.4 1541.1 925.1 1543.0 927.3 1544.0 928.1 1545.4 928.7 1549.6 929.6 1553.6 929.9 1620.9 928.9 1648.0 928.3 1655.6 928.0 1661.5 927.4 1666.8 926.6 1676.7 924.6 1681.3 924.2 1686.6 924.5 1700.8 926.6 1710.0 927.2 1724.9 927.4 1760.5 927.0" stroke="#000"/>
<path d="M1449.0 958.2L1456.3 959.9 1457.6 960.0 1459.6 959.6 1460.2 959.7 1462.9 961.0 1464.2 961.3 1467.8 961.6 1470.1 961.7 1484.6 961.6 1486.0 961.3 1487.6 960.5 1490.9 958.4 1492.6 956.2 1496.2 949.0 1501.8 939.5 1503.1 936.9 1506.1 930.1 1508.4 925.7 1509.4 924.2 1510.4 923.4 1511.0 923.4 1511.7 923.7 1513.3 924.7 1515.7 928.7 1516.3 929.4 1516.6 929.5 1517.0 929.4 1517.6 928.5 1519.0 924.8 1522.3 911.8 1527.5 895.6 1529.2 889.1 1529.5 888.5 1529.8 888.5 1530.5 890.5 1532.5 901.8 1534.8 918.4 1537.4 940.7 1538.1 945.0 1539.4 951.6 1540.4 955.5 1541.1 957.1 1543.0 959.2 1544.0 959.9 1545.4 960.5 1549.6 961.3 1553.6 961.6 1623.9 960.8 1650.6 960.3 1657.5 959.9 1663.2 959.2 1668.1 958.2 1677.0 955.8 1679.3 955.5 1681.3 955.4 1683.9 955.5 1686.6 955.9 1696.2 957.8 1700.8 958.5 1705.1 959.0 1710.0 959.4 1724.9 959.7 1760.5 959.5" stroke="#000"/>
<path d="M1449.0 989.2L1456.3 991.9 1457.9 992.1 1460.2 992.0 1462.5 993.1 1463.5 993.5 1468.1 994.0 1484.3 993.9 1485.6 993.7 1486.9 993.2 1490.6 991.0 1491.6 990.0 1492.6 988.5 1496.2 981.4 1501.5 972.6 1503.1 969.4 1506.1 962.7 1508.7 957.8 1509.7 956.5 1510.4 956.1 1511.0 956.1 1512.0 956.5 1513.3 957.4 1515.7 961.3 1516.3 962.0 1517.0 962.0 1517.6 961.3 1518.3 960.1 1519.3 957.5 1522.6 947.0 1527.9 934.8 1528.5 933.0 1529.8 928.0 1530.2 927.3 1530.5 927.0 1530.8 927.4 1531.5 929.8 1533.5 940.4 1535.8 955.8 1538.4 976.0 1540.1 984.2 1541.1 987.9 1541.7 989.5 1542.4 990.4 1543.7 991.6 1544.7 992.3 1546.0 992.8 1550.3 993.6 1554.3 993.9 1624.5 993.2 1650.9 992.7 1657.9 992.3 1663.2 991.6 1668.1 990.6 1677.0 988.3 1681.0 987.8 1683.6 987.9 1686.3 988.2 1696.5 990.3 1701.1 991.0 1710.0 991.8 1724.9 992.1 1760.5 992.0" stroke="#000"/>
<path d="M1449.0 1018.7L1454.6 1022.3 1456.6 1023.4 1458.9 1024.0 1460.2 1024.0 1462.9 1025.3 1464.8 1025.7 1468.1 1026.0 1485.0 1026.0 1486.3 1025.7 1487.6 1025.2 1490.6 1023.5 1492.2 1022.2 1493.5 1020.2 1497.2 1013.2 1503.1 1003.2 1506.7 995.3 1509.4 990.4 1510.4 989.0 1511.0 988.5 1511.7 988.4 1512.7 988.8 1514.0 989.6 1514.7 990.4 1516.3 993.4 1517.0 994.2 1517.6 994.4 1518.6 993.4 1519.9 990.7 1523.6 980.7 1527.5 973.3 1528.9 970.5 1529.5 968.7 1530.5 965.1 1531.2 963.7 1531.5 963.8 1532.2 965.7 1534.1 975.4 1536.4 989.5 1539.1 1008.4 1539.7 1012.0 1541.1 1017.6 1542.1 1020.9 1542.7 1022.1 1544.7 1023.9 1545.7 1024.5 1547.0 1025.0 1551.3 1025.7 1555.3 1025.9 1625.5 1025.1 1651.9 1024.5 1658.9 1024.1 1664.1 1023.5 1669.1 1022.5 1678.0 1020.1 1682.0 1019.6 1684.6 1019.7 1687.2 1020.0 1697.5 1022.0 1702.1 1022.8 1711.0 1023.6 1725.9 1023.9 1760.5 1023.7" stroke="#000"/>
<path d="M1449.0 1049.7L1454.6 1053.2 1456.6 1054.4 1458.9 1055.0 1460.2 1055.0 1462.9 1056.3 1464.5 1056.6 1468.1 1057.0 1484.6 1057.0 1486.9 1056.5 1489.6 1055.2 1491.9 1053.7 1493.5 1051.5 1497.2 1044.8 1503.1 1035.2 1506.7 1027.6 1509.4 1022.9 1510.4 1021.5 1511.0 1021.1 1511.7 1021.0 1512.7 1021.3 1514.0 1022.1 1514.7 1022.9 1516.3 1025.8 1517.0 1026.6 1517.3 1026.7 1518.0 1026.6 1519.0 1025.7 1520.3 1023.4 1522.9 1017.6 1524.2 1015.1 1528.9 1009.0 1530.5 1006.4 1531.2 1004.8 1532.2 1001.6 1532.8 1000.4 1533.1 1000.6 1533.8 1002.4 1535.8 1011.2 1538.1 1024.2 1540.7 1041.3 1541.4 1044.5 1542.7 1049.6 1543.7 1052.4 1544.4 1053.5 1546.3 1055.1 1547.3 1055.6 1548.7 1056.1 1552.9 1056.7 1556.6 1056.9 1625.5 1056.4 1651.6 1055.9 1658.2 1055.5 1663.5 1054.8 1668.4 1053.7 1677.0 1051.2 1679.3 1050.8 1681.3 1050.7 1683.9 1050.8 1686.6 1051.2 1696.5 1053.4 1701.1 1054.3 1705.4 1054.8 1710.3 1055.2 1725.2 1055.6 1760.5 1055.6" stroke="#000"/></g><path d="M122.9 1117.0V1101.7H424.6V1117.0M143.0 1101.7V1109.9M163.1 1101.7V1109.9M183.2 1101.7V1109.9M203.4 1101.7V1109.9M223.5 1101.7V1117.0M243.6 1101.7V1109.9M263.7 1101.7V1109.9M283.8 1101.7V1109.9M303.9 1101.7V1109.9M324.0 1101.7V1117.0M344.1 1101.7V1109.9M364.3 1101.7V1109.9M384.4 1101.7V1109.9M404.5 1101.7V1109.9" stroke="#000" stroke-width="3.1" fill="none" stroke-linecap="round" stroke-linejoin="round"/>
<path d="M522.1 1116.7V1101.2H824.5V1116.7M542.3 1101.2V1109.0M562.4 1101.2V1109.0M582.6 1101.2V1109.0M602.7 1101.2V1109.0M622.9 1101.2V1116.7M643.1 1101.2V1109.0M663.2 1101.2V1109.0M683.4 1101.2V1109.0M703.5 1101.2V1109.0M723.7 1101.2V1116.7M743.9 1101.2V1109.0M764.0 1101.2V1109.0M784.2 1101.2V1109.0M804.3 1101.2V1109.0" stroke="#000" stroke-width="3.1" fill="none" stroke-linecap="round" stroke-linejoin="round"/>
<path d="M997.6 1115.9V1100.0H1311.5V1115.9M1010.2 1100.0V1107.7M1022.7 1100.0V1107.7M1035.3 1100.0V1107.7M1047.8 1100.0V1107.7M1060.4 1100.0V1115.9M1072.9 1100.0V1107.7M1085.5 1100.0V1107.7M1098.0 1100.0V1107.7M1110.6 1100.0V1107.7M1123.2 1100.0V1115.9M1135.7 1100.0V1107.7M1148.3 1100.0V1107.7M1160.8 1100.0V1107.7M1173.4 1100.0V1107.7M1185.9 1100.0V1115.9M1198.5 1100.0V1107.7M1211.1 1100.0V1107.7M1223.6 1100.0V1107.7M1236.2 1100.0V1107.7M1248.7 1100.0V1115.9M1261.3 1100.0V1107.7M1273.8 1100.0V1107.7M1286.4 1100.0V1107.7M1298.9 1100.0V1107.7" stroke="#000" stroke-width="3.1" fill="none" stroke-linecap="round" stroke-linejoin="round"/>
<path d="M1445.9 1115.4V1099.0H1762.4V1115.4M1458.6 1099.0V1107.1M1471.2 1099.0V1107.1M1483.9 1099.0V1107.1M1496.5 1099.0V1107.1M1509.2 1099.0V1115.4M1521.9 1099.0V1107.1M1534.5 1099.0V1107.1M1547.2 1099.0V1107.1M1559.8 1099.0V1107.1M1572.5 1099.0V1115.4M1585.2 1099.0V1107.1M1597.8 1099.0V1107.1M1610.5 1099.0V1107.1M1623.1 1099.0V1107.1M1635.8 1099.0V1115.4M1648.5 1099.0V1107.1M1661.1 1099.0V1107.1M1673.8 1099.0V1107.1M1686.4 1099.0V1107.1M1699.1 1099.0V1115.4M1711.8 1099.0V1107.1M1724.4 1099.0V1107.1M1737.1 1099.0V1107.1M1749.7 1099.0V1107.1" stroke="#000" stroke-width="3.1" fill="none" stroke-linecap="round" stroke-linejoin="round"/>
<text class="s" transform="translate(91.8 184.0) scale(0.92 1)" font-size="29.5" text-anchor="end">930</text>
<text class="s" transform="translate(91.8 213.8) scale(0.92 1)" font-size="29.5" text-anchor="end">925</text>
<text class="s" transform="translate(91.8 246.6) scale(0.92 1)" font-size="29.5" text-anchor="end">920</text>
<text class="s" transform="translate(91.8 277.0) scale(0.92 1)" font-size="29.5" text-anchor="end">910</text>
<text class="s" transform="translate(91.8 307.3) scale(0.92 1)" font-size="29.5" text-anchor="end">880</text>
<text class="s" transform="translate(91.8 335.1) scale(0.92 1)" font-size="29.5" text-anchor="end">850</text>
<text class="s" transform="translate(91.8 362.9) scale(0.92 1)" font-size="29.5" text-anchor="end">820</text>
<text class="s" transform="translate(91.8 394.5) scale(0.92 1)" font-size="29.5" text-anchor="end">790</text>
<text class="s" transform="translate(91.8 424.8) scale(0.92 1)" font-size="29.5" text-anchor="end">760</text>
<text class="s" transform="translate(91.8 456.0) scale(0.92 1)" font-size="29.5" text-anchor="end">730</text>
<text class="s" transform="translate(91.8 486.3) scale(0.92 1)" font-size="29.5" text-anchor="end">700</text>
<text class="s" transform="translate(91.8 514.1) scale(0.92 1)" font-size="29.5" text-anchor="end">670</text>
<text class="s" transform="translate(91.8 544.4) scale(0.92 1)" font-size="29.5" text-anchor="end">640</text>
<text class="s" transform="translate(91.8 575.3) scale(0.92 1)" font-size="29.5" text-anchor="end">610</text>
<text class="s" transform="translate(91.8 605.1) scale(0.92 1)" font-size="29.5" text-anchor="end">580</text>
<text class="s" transform="translate(91.8 634.1) scale(0.92 1)" font-size="29.5" text-anchor="end">550</text>
<text class="s" transform="translate(91.8 664.5) scale(0.92 1)" font-size="29.5" text-anchor="end">520</text>
<text class="s" transform="translate(91.8 694.8) scale(0.92 1)" font-size="29.5" text-anchor="end">490</text>
<text class="s" transform="translate(91.8 727.4) scale(0.92 1)" font-size="29.5" text-anchor="end">460</text>
<text class="s" transform="translate(91.8 755.2) scale(0.92 1)" font-size="29.5" text-anchor="end">430</text>
<text class="s" transform="translate(91.8 786.7) scale(0.92 1)" font-size="29.5" text-anchor="end">400</text>
<text class="s" transform="translate(91.8 817.1) scale(0.92 1)" font-size="29.5" text-anchor="end">370</text>
<text class="s" transform="translate(91.8 847.4) scale(0.92 1)" font-size="29.5" text-anchor="end">340</text>
<text class="s" transform="translate(91.8 877.7) scale(0.92 1)" font-size="29.5" text-anchor="end">310</text>
<text class="s" transform="translate(91.8 909.3) scale(0.92 1)" font-size="29.5" text-anchor="end">280</text>
<text class="s" transform="translate(91.8 940.9) scale(0.92 1)" font-size="29.5" text-anchor="end">250</text>
<text class="s" transform="translate(91.8 971.2) scale(0.92 1)" font-size="29.5" text-anchor="end">220</text>
<text class="s" transform="translate(91.8 997.9) scale(0.92 1)" font-size="29.5" text-anchor="end">190</text>
<text class="s" transform="translate(91.8 1030.7) scale(0.92 1)" font-size="29.5" text-anchor="end">160</text>
<text class="s" transform="translate(91.8 1061.1) scale(0.92 1)" font-size="29.5" text-anchor="end">130</text>
<text class="s" transform="translate(91.8 1090.6) scale(0.92 1)" font-size="29.5" text-anchor="end">100</text>
<text class="s" transform="translate(491.7 328.9) scale(0.92 1)" font-size="29.5" text-anchor="end">850</text>
<text class="s" transform="translate(491.7 357.9) scale(0.92 1)" font-size="29.5" text-anchor="end">820</text>
<text class="s" transform="translate(491.7 388.3) scale(0.92 1)" font-size="29.5" text-anchor="end">790</text>
<text class="s" transform="translate(491.7 418.6) scale(0.92 1)" font-size="29.5" text-anchor="end">760</text>
<text class="s" transform="translate(491.7 452.2) scale(0.92 1)" font-size="29.5" text-anchor="end">730</text>
<text class="s" transform="translate(491.7 481.3) scale(0.92 1)" font-size="29.5" text-anchor="end">700</text>
<text class="s" transform="translate(491.7 509.1) scale(0.92 1)" font-size="29.5" text-anchor="end">670</text>
<text class="s" transform="translate(491.7 541.9) scale(0.92 1)" font-size="29.5" text-anchor="end">640</text>
<text class="s" transform="translate(491.7 572.2) scale(0.92 1)" font-size="29.5" text-anchor="end">610</text>
<text class="s" transform="translate(491.7 601.3) scale(0.92 1)" font-size="29.5" text-anchor="end">580</text>
<text class="s" transform="translate(491.7 630.4) scale(0.92 1)" font-size="29.5" text-anchor="end">550</text>
<text class="s" transform="translate(491.7 661.9) scale(0.92 1)" font-size="29.5" text-anchor="end">520</text>
<text class="s" transform="translate(491.7 692.3) scale(0.92 1)" font-size="29.5" text-anchor="end">490</text>
<text class="s" transform="translate(491.7 722.6) scale(0.92 1)" font-size="29.5" text-anchor="end">460</text>
<text class="s" transform="translate(491.7 752.4) scale(0.92 1)" font-size="29.5" text-anchor="end">430</text>
<text class="s" transform="translate(491.7 784.0) scale(0.92 1)" font-size="29.5" text-anchor="end">400</text>
<text class="s" transform="translate(491.7 815.6) scale(0.92 1)" font-size="29.5" text-anchor="end">370</text>
<text class="s" transform="translate(491.7 844.6) scale(0.92 1)" font-size="29.5" text-anchor="end">340</text>
<text class="s" transform="translate(491.7 875.0) scale(0.92 1)" font-size="29.5" text-anchor="end">310</text>
<text class="s" transform="translate(491.7 907.8) scale(0.92 1)" font-size="29.5" text-anchor="end">280</text>
<text class="s" transform="translate(491.7 939.4) scale(0.92 1)" font-size="29.5" text-anchor="end">250</text>
<text class="s" transform="translate(491.7 968.5) scale(0.92 1)" font-size="29.5" text-anchor="end">220</text>
<text class="s" transform="translate(491.7 996.3) scale(0.92 1)" font-size="29.5" text-anchor="end">190</text>
<text class="s" transform="translate(491.7 1029.1) scale(0.92 1)" font-size="29.5" text-anchor="end">160</text>
<text class="s" transform="translate(491.7 1060.6) scale(0.92 1)" font-size="29.5" text-anchor="end">130</text>
<text class="s" transform="translate(491.7 1089.7) scale(0.92 1)" font-size="29.5" text-anchor="end">100</text>
<text class="s" transform="translate(965.4 122.3) scale(0.92 1)" font-size="29.5" text-anchor="end">930</text>
<text class="s" transform="translate(965.4 153.5) scale(0.92 1)" font-size="29.5" text-anchor="end">925</text>
<text class="s" transform="translate(965.4 187.0) scale(0.92 1)" font-size="29.5" text-anchor="end">920</text>
<text class="s" transform="translate(965.4 219.0) scale(0.92 1)" font-size="29.5" text-anchor="end">910</text>
<text class="s" transform="translate(965.4 250.5) scale(0.92 1)" font-size="29.5" text-anchor="end">880</text>
<text class="s" transform="translate(965.4 280.2) scale(0.92 1)" font-size="29.5" text-anchor="end">850</text>
<text class="s" transform="translate(965.4 309.3) scale(0.92 1)" font-size="29.5" text-anchor="end">820</text>
<text class="s" transform="translate(965.4 339.9) scale(0.92 1)" font-size="29.5" text-anchor="end">790</text>
<text class="s" transform="translate(965.4 373.4) scale(0.92 1)" font-size="29.5" text-anchor="end">760</text>
<text class="s" transform="translate(965.4 405.4) scale(0.92 1)" font-size="29.5" text-anchor="end">730</text>
<text class="s" transform="translate(965.4 436.0) scale(0.92 1)" font-size="29.5" text-anchor="end">700</text>
<text class="s" transform="translate(965.4 466.6) scale(0.92 1)" font-size="29.5" text-anchor="end">670</text>
<text class="s" transform="translate(965.4 498.6) scale(0.92 1)" font-size="29.5" text-anchor="end">640</text>
<text class="s" transform="translate(965.4 530.6) scale(0.92 1)" font-size="29.5" text-anchor="end">610</text>
<text class="s" transform="translate(965.4 561.2) scale(0.92 1)" font-size="29.5" text-anchor="end">580</text>
<text class="s" transform="translate(965.4 591.8) scale(0.92 1)" font-size="29.5" text-anchor="end">550</text>
<text class="s" transform="translate(965.4 624.6) scale(0.92 1)" font-size="29.5" text-anchor="end">520</text>
<text class="s" transform="translate(965.4 657.4) scale(0.92 1)" font-size="29.5" text-anchor="end">490</text>
<text class="s" transform="translate(965.4 688.0) scale(0.92 1)" font-size="29.5" text-anchor="end">460</text>
<text class="s" transform="translate(965.4 715.6) scale(0.92 1)" font-size="29.5" text-anchor="end">430</text>
<text class="s" transform="translate(965.4 749.1) scale(0.92 1)" font-size="29.5" text-anchor="end">400</text>
<text class="s" transform="translate(965.4 781.1) scale(0.92 1)" font-size="29.5" text-anchor="end">370</text>
<text class="s" transform="translate(965.4 813.2) scale(0.92 1)" font-size="29.5" text-anchor="end">340</text>
<text class="s" transform="translate(965.4 843.8) scale(0.92 1)" font-size="29.5" text-anchor="end">310</text>
<text class="s" transform="translate(965.4 877.6) scale(0.92 1)" font-size="29.5" text-anchor="end">280</text>
<text class="s" transform="translate(965.4 909.1) scale(0.92 1)" font-size="29.5" text-anchor="end">250</text>
<text class="s" transform="translate(965.4 940.3) scale(0.92 1)" font-size="29.5" text-anchor="end">220</text>
<text class="s" transform="translate(965.4 968.5) scale(0.92 1)" font-size="29.5" text-anchor="end">190</text>
<text class="s" transform="translate(965.4 1001.9) scale(0.92 1)" font-size="29.5" text-anchor="end">160</text>
<text class="s" transform="translate(965.4 1034.0) scale(0.92 1)" font-size="29.5" text-anchor="end">130</text>
<text class="s" transform="translate(965.4 1064.6) scale(0.92 1)" font-size="29.5" text-anchor="end">100</text>
<text class="s" transform="translate(1413.5 272.7) scale(0.92 1)" font-size="29.5" text-anchor="end">850</text>
<text class="s" transform="translate(1413.5 303.0) scale(0.92 1)" font-size="29.5" text-anchor="end">820</text>
<text class="s" transform="translate(1413.5 333.6) scale(0.92 1)" font-size="29.5" text-anchor="end">790</text>
<text class="s" transform="translate(1413.5 366.5) scale(0.92 1)" font-size="29.5" text-anchor="end">760</text>
<text class="s" transform="translate(1413.5 399.5) scale(0.92 1)" font-size="29.5" text-anchor="end">730</text>
<text class="s" transform="translate(1413.5 429.8) scale(0.92 1)" font-size="29.5" text-anchor="end">700</text>
<text class="s" transform="translate(1413.5 460.1) scale(0.92 1)" font-size="29.5" text-anchor="end">670</text>
<text class="s" transform="translate(1413.5 494.4) scale(0.92 1)" font-size="29.5" text-anchor="end">640</text>
<text class="s" transform="translate(1413.5 526.1) scale(0.92 1)" font-size="29.5" text-anchor="end">610</text>
<text class="s" transform="translate(1413.5 556.4) scale(0.92 1)" font-size="29.5" text-anchor="end">580</text>
<text class="s" transform="translate(1413.5 588.0) scale(0.92 1)" font-size="29.5" text-anchor="end">550</text>
<text class="s" transform="translate(1413.5 619.1) scale(0.92 1)" font-size="29.5" text-anchor="end">520</text>
<text class="s" transform="translate(1413.5 651.1) scale(0.92 1)" font-size="29.5" text-anchor="end">490</text>
<text class="s" transform="translate(1413.5 683.1) scale(0.92 1)" font-size="29.5" text-anchor="end">460</text>
<text class="s" transform="translate(1413.5 713.6) scale(0.92 1)" font-size="29.5" text-anchor="end">430</text>
<text class="s" transform="translate(1413.5 746.6) scale(0.92 1)" font-size="29.5" text-anchor="end">400</text>
<text class="s" transform="translate(1413.5 778.6) scale(0.92 1)" font-size="29.5" text-anchor="end">370</text>
<text class="s" transform="translate(1413.5 810.6) scale(0.92 1)" font-size="29.5" text-anchor="end">340</text>
<text class="s" transform="translate(1413.5 841.6) scale(0.92 1)" font-size="29.5" text-anchor="end">310</text>
<text class="s" transform="translate(1413.5 874.6) scale(0.92 1)" font-size="29.5" text-anchor="end">280</text>
<text class="s" transform="translate(1413.5 907.1) scale(0.92 1)" font-size="29.5" text-anchor="end">250</text>
<text class="s" transform="translate(1413.5 938.1) scale(0.92 1)" font-size="29.5" text-anchor="end">220</text>
<text class="s" transform="translate(1413.5 967.6) scale(0.92 1)" font-size="29.5" text-anchor="end">190</text>
<text class="s" transform="translate(1413.5 1001.6) scale(0.92 1)" font-size="29.5" text-anchor="end">160</text>
<text class="s" transform="translate(1413.5 1034.1) scale(0.92 1)" font-size="29.5" text-anchor="end">130</text>
<text class="s" transform="translate(1413.5 1064.2) scale(0.92 1)" font-size="29.5" text-anchor="end">100</text>
<text class="s" transform="translate(122.9 1149.3) scale(1 1.12)" font-size="26.5" text-anchor="middle">17</text>
<text class="s" transform="translate(223.5 1149.3) scale(1 1.12)" font-size="26.5" text-anchor="middle">18</text>
<text class="s" transform="translate(324.0 1149.3) scale(1 1.12)" font-size="26.5" text-anchor="middle">19</text>
<text class="s" transform="translate(424.6 1149.3) scale(1 1.12)" font-size="26.5" text-anchor="middle">20</text>
<text class="s" transform="translate(273.8 1180.9) scale(1 1.09)" font-size="27.3" text-anchor="middle">Scattering angle (deg.)</text>
<text class="s" transform="translate(522.1 1149.3) scale(1 1.12)" font-size="26.5" text-anchor="middle">17</text>
<text class="s" transform="translate(622.9 1149.3) scale(1 1.12)" font-size="26.5" text-anchor="middle">18</text>
<text class="s" transform="translate(723.7 1149.3) scale(1 1.12)" font-size="26.5" text-anchor="middle">19</text>
<text class="s" transform="translate(824.5 1149.3) scale(1 1.12)" font-size="26.5" text-anchor="middle">20</text>
<text class="s" transform="translate(673.3 1180.9) scale(1 1.09)" font-size="27.3" text-anchor="middle">Scattering angle (deg.)</text>
<text class="s" transform="translate(997.6 1149.3) scale(1 1.12)" font-size="27.5" text-anchor="middle">60</text>
<text class="s" transform="translate(1060.4 1149.3) scale(1 1.12)" font-size="27.5" text-anchor="middle">61</text>
<text class="s" transform="translate(1123.2 1149.3) scale(1 1.12)" font-size="27.5" text-anchor="middle">62</text>
<text class="s" transform="translate(1185.9 1149.3) scale(1 1.12)" font-size="27.5" text-anchor="middle">63</text>
<text class="s" transform="translate(1248.7 1149.3) scale(1 1.12)" font-size="27.5" text-anchor="middle">64</text>
<text class="s" transform="translate(1311.5 1149.3) scale(1 1.12)" font-size="27.5" text-anchor="middle">65</text>
<text class="s" transform="translate(1154.5 1180.9) scale(1 1.09)" font-size="28.6" text-anchor="middle">Scattering angle (deg.)</text>
<text class="s" transform="translate(1445.9 1149.3) scale(1 1.12)" font-size="27.5" text-anchor="middle">60</text>
<text class="s" transform="translate(1509.2 1149.3) scale(1 1.12)" font-size="27.5" text-anchor="middle">61</text>
<text class="s" transform="translate(1572.5 1149.3) scale(1 1.12)" font-size="27.5" text-anchor="middle">62</text>
<text class="s" transform="translate(1635.8 1149.3) scale(1 1.12)" font-size="27.5" text-anchor="middle">63</text>
<text class="s" transform="translate(1699.1 1149.3) scale(1 1.12)" font-size="27.5" text-anchor="middle">64</text>
<text class="s" transform="translate(1762.4 1149.3) scale(1 1.12)" font-size="27.5" text-anchor="middle">65</text>
<text class="s" transform="translate(1604.2 1180.9) scale(1 1.09)" font-size="28.9" text-anchor="middle">Scattering angle (deg.)</text>
<text class="r" x="37.2" y="47.3" font-size="39.27" fill="#000">Ni<tspan font-size="26.9" dy="8.3">0.7</tspan><tspan dy="-8.3">&#8203;</tspan>Mn<tspan font-size="26.9" dy="8.3">0.3</tspan><tspan dy="-8.3">&#8203;</tspan>(OH)<tspan font-size="26.9" dy="8.3">2</tspan><tspan dy="-8.3">&#8203;</tspan>+LiOH&#183;H<tspan font-size="26.9" dy="8.3">2</tspan><tspan dy="-8.3">&#8203;</tspan>O</text>
<text class="r" x="918.8" y="30.0" font-size="39.27" fill="#000">Ni<tspan font-size="26.9" dy="8.3">0.7</tspan><tspan dy="-8.3">&#8203;</tspan>Mn<tspan font-size="26.9" dy="8.3">0.3</tspan><tspan dy="-8.3">&#8203;</tspan>(OH)<tspan font-size="26.9" dy="8.3">2</tspan><tspan dy="-8.3">&#8203;</tspan>+LiOH&#183;H<tspan font-size="26.9" dy="8.3">2</tspan><tspan dy="-8.3">&#8203;</tspan>O</text>
<text class="r" x="451.3" y="190.7" font-size="39.27" fill="#000">Ni+MnCO<tspan font-size="26.9" dy="8.3">3</tspan><tspan dy="-8.3">&#8203;</tspan>+LiOH&#183;H<tspan font-size="26.9" dy="8.3">2</tspan><tspan dy="-8.3">&#8203;</tspan>O</text>
<text class="r" x="1436.4" y="87.2" font-size="39.27" fill="#000">Ni+MnCO<tspan font-size="26.9" dy="8.3">3</tspan><tspan dy="-8.3">&#8203;</tspan>+LiOH&#183;H<tspan font-size="26.9" dy="8.3">2</tspan><tspan dy="-8.3">&#8203;</tspan>O</text>
<text class="r" x="143.5" y="113.8" font-size="40.30" fill="#000">(003)</text>
<text class="r" x="553.5" y="261.8" font-size="40.30" fill="#000">(003)</text>
<text class="r" x="1073.0" y="85.9" font-size="40.00" fill="#000">(018)</text>
<text class="r" x="1238.0" y="80.8" font-size="40.60" fill="#000">(110)</text>
<text class="r" x="1597.7" y="135.8" font-size="40.50" fill="#000" letter-spacing="0.9">(018)/(110)</text>
<text class="r" x="957.8" y="85.5" font-size="45.50" fill="#000">tube</text>
<text class="r" x="1404.3" y="182.9" font-size="45.50" fill="#000">tube</text>
<text class="r" x="160.9" y="1087.9" font-size="28.70" fill="#000">Ni<tspan font-size="21.5" dy="6.6">0.7</tspan><tspan dy="-6.6">&#8203;</tspan>Mn<tspan font-size="21.5" dy="6.6">0.3</tspan><tspan dy="-6.6">&#8203;</tspan>(OH)<tspan font-size="21.5" dy="6.6">2</tspan><tspan dy="-6.6">&#8203;</tspan>-(001)</text>
<text class="s" transform="translate(4.9 95.2) scale(0.84 1)" font-size="39.5">a</text>
<text class="s" transform="translate(847.4 83.1) scale(0.9 1)" font-size="41.5">b</text>
<text class="r" transform="translate(27.4 722.6) rotate(-90) scale(1.020 1)" font-size="33.0" fill="#000" text-anchor="start">Temperature&#160; (<tspan font-size="21" dy="-12">o</tspan><tspan dy="12">C)</tspan></text>
<text class="r" transform="translate(891.9 722.6) rotate(-90) scale(1.020 1)" font-size="33.0" fill="#000" text-anchor="start">Temperature&#160; (<tspan font-size="21" dy="-12">o</tspan><tspan dy="12">C)</tspan></text>
<text class="r" transform="translate(363.9 893.5) rotate(-90) scale(1.000 1)" font-size="38.3" fill="#ff0000" text-anchor="start">Hydroxide</text>
<text class="r" transform="translate(411.9 918.2) rotate(-90) scale(1.000 1)" font-size="39.0" fill="#ff0000" text-anchor="start">decomposes</text>
<text class="r" transform="translate(1305.6 676.3) rotate(-90) scale(1.000 1)" font-size="39.6" fill="#ff0000" text-anchor="start">React with Li</text>
<text class="r" transform="translate(1757.3 485.1) rotate(-90) scale(1.000 1)" font-size="39.6" fill="#ff0000" text-anchor="start">React with Li</text>
<text class="r" transform="translate(1701.0 672.6) rotate(-90) scale(1.000 1)" font-size="38.5" fill="#ff0000" text-anchor="start">NiO forms</text>
<text class="r" transform="translate(1297.6 943.8) rotate(-90) scale(1.000 1)" font-size="38.0" fill="#ff0000" text-anchor="start">Ni<tspan font-size="28" dy="7">0.7</tspan><tspan dy="-7">Mn</tspan><tspan font-size="28" dy="7">0.3</tspan><tspan dy="-7">O</tspan></text>
<text class="r" transform="translate(1346.4 942.5) rotate(-90) scale(1.000 1)" font-size="38.0" fill="#ff0000" text-anchor="start">forms</text>
<path d="M338.0 1040.3L276.5 933.5" stroke="#ff0000" stroke-width="3.2" fill="none"/>
<path d="M269.5 921.4L282.6 931.2L271.4 937.6Z" fill="#ff0000"/>
<path d="M1212.0 728.0L1224.6 457.9" stroke="#ff0000" stroke-width="3.2" fill="none"/>
<path d="M1225.3 443.9L1231.1 459.2L1218.1 458.6Z" fill="#ff0000"/>
<path d="M1606.9 444.2L1651.4 310.8" stroke="#ff0000" stroke-width="3.2" fill="none"/>
<path d="M1655.8 297.5L1657.2 313.8L1644.9 309.7Z" fill="#ff0000"/></svg></body></html>
